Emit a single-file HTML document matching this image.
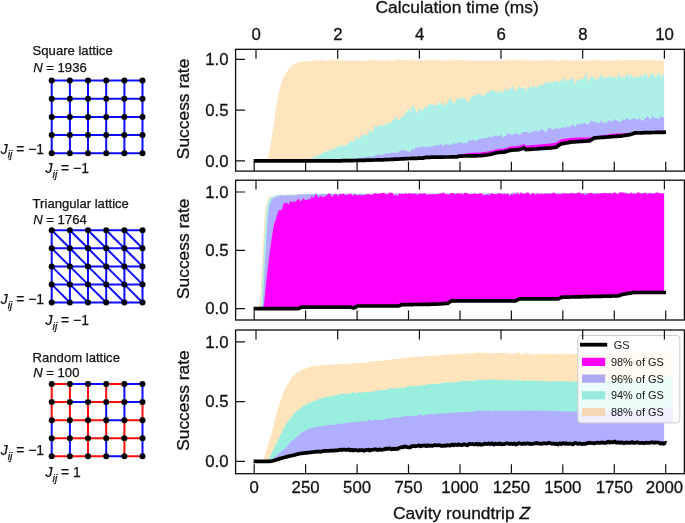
<!DOCTYPE html>
<html lang="en">
<head>
<meta charset="utf-8">
<title>Success rate vs cavity roundtrip</title>
<style>
html,body{margin:0;padding:0;background:#fff;}
body{width:685px;height:523px;overflow:hidden;}
svg{display:block;}
</style>
</head>
<body>
<svg width="685" height="523" viewBox="0 0 685 523">
<rect width="685" height="523" fill="#fff"/>
<g>
<path d="M254.2,160.9L255.8,160.9L257.5,160.9L259.1,160.9L260.8,160.9L262.4,160.9L264.1,160.9L265.7,160.9L267.4,160.4L269.0,152.5L270.7,144.6L272.3,133.8L274.0,122.6L275.6,111.8L277.2,101.2L278.9,92.6L280.5,85.9L282.2,80.5L283.8,77.2L285.5,73.9L287.1,71.2L288.8,69.3L290.4,67.5L292.1,65.6L293.7,64.5L295.4,63.6L297.0,62.8L298.6,63.1L300.3,61.5L301.9,61.9L303.6,61.8L305.2,60.9L306.9,61.7L308.5,60.6L310.2,61.5L311.8,60.7L313.5,60.9L315.1,59.8L316.7,59.7L318.4,60.5L320.0,60.1L321.7,60.5L323.3,60.2L325.0,60.7L326.6,61.1L328.3,61.1L329.9,60.2L331.6,59.5L333.2,60.3L334.9,60.6L336.5,59.6L338.1,60.3L339.8,60.4L341.4,60.3L343.1,60.5L344.7,60.5L346.4,61.0L348.0,60.2L349.7,60.4L351.3,59.9L353.0,60.5L354.6,61.2L356.3,60.4L357.9,59.7L359.5,60.5L361.2,60.7L362.8,60.9L364.5,60.8L366.1,60.5L367.8,60.9L369.4,59.8L371.1,60.5L372.7,60.3L374.4,59.8L376.0,59.8L377.6,60.5L379.3,60.2L380.9,60.1L382.6,60.5L384.2,61.1L385.9,60.1L387.5,60.0L389.2,60.2L390.8,60.7L392.5,60.4L394.1,60.6L395.8,60.5L397.4,59.8L399.0,59.7L400.7,60.1L402.3,60.1L404.0,60.1L405.6,60.4L407.3,60.4L408.9,60.6L410.6,60.4L412.2,59.4L413.9,60.0L415.5,60.5L417.2,60.5L418.8,60.7L420.4,60.2L422.1,60.2L423.7,60.9L425.4,60.2L427.0,60.6L428.7,59.8L430.3,60.3L432.0,59.6L433.6,60.5L435.3,60.5L436.9,60.2L438.6,59.9L440.2,60.1L441.8,60.8L443.5,60.3L445.1,60.3L446.8,60.5L448.4,60.6L450.1,59.6L451.7,60.5L453.4,60.7L455.0,60.1L456.7,60.3L458.3,60.4L460.0,60.0L461.6,60.1L463.2,60.2L464.9,59.9L466.5,60.2L468.2,60.6L469.8,60.5L471.5,60.5L473.1,60.2L474.8,60.8L476.4,61.1L478.1,60.3L479.7,60.9L481.3,61.1L483.0,60.2L484.6,60.6L486.3,60.1L487.9,60.5L489.6,60.8L491.2,60.8L492.9,60.5L494.5,60.4L496.2,60.6L497.8,60.4L499.5,60.9L501.1,60.3L502.7,61.0L504.4,60.4L506.0,60.0L507.7,59.9L509.3,59.6L511.0,60.9L512.6,60.0L514.3,59.8L515.9,59.9L517.6,60.7L519.2,60.1L520.9,59.5L522.5,60.9L524.1,60.1L525.8,59.8L527.4,60.6L529.1,60.1L530.7,60.7L532.4,60.6L534.0,60.6L535.7,60.2L537.3,60.3L539.0,59.9L540.6,60.7L542.2,60.3L543.9,59.9L545.5,60.1L547.2,60.8L548.8,60.0L550.5,60.5L552.1,60.1L553.8,60.2L555.4,59.8L557.1,60.2L558.7,61.0L560.4,60.8L562.0,60.0L563.6,60.4L565.3,59.8L566.9,60.2L568.6,60.6L570.2,59.8L571.9,60.6L573.5,61.1L575.2,59.4L576.8,61.0L578.5,60.0L580.1,59.9L581.8,60.2L583.4,60.9L585.0,59.8L586.7,60.8L588.3,60.8L590.0,60.4L591.6,59.9L593.3,60.1L594.9,59.9L596.6,60.4L598.2,60.3L599.9,60.7L601.5,60.4L603.2,60.0L604.8,60.4L606.4,60.1L608.1,60.5L609.7,60.5L611.4,60.2L613.0,60.3L614.7,60.0L616.3,60.2L618.0,59.5L619.6,60.3L621.3,60.3L622.9,60.7L624.6,60.2L626.2,60.0L627.8,60.5L629.5,60.3L631.1,59.9L632.8,60.3L634.4,60.4L636.1,59.8L637.7,60.2L639.4,60.1L641.0,59.8L642.7,59.8L644.3,60.4L645.9,60.4L647.6,60.1L649.2,60.3L650.9,61.0L652.5,59.7L654.2,60.2L655.8,59.9L657.5,60.7L659.1,59.7L660.8,60.5L662.4,60.3L664.1,60.8L664.1,132.3L655.8,132.4L647.6,132.6L639.4,132.8L631.1,134.3L622.9,135.7L614.7,136.5L606.4,137.1L598.2,137.7L590.0,140.6L581.8,141.3L573.5,141.9L565.3,143.1L557.1,146.6L548.8,148.0L540.6,148.6L532.4,149.2L524.1,147.8L515.9,149.9L507.7,151.0L499.5,152.4L491.2,154.2L483.0,155.4L474.8,155.8L466.5,156.0L458.3,156.4L450.1,157.0L441.8,157.1L433.6,157.2L425.4,157.4L417.2,158.3L408.9,158.5L400.7,158.9L392.5,159.3L384.2,159.7L376.0,160.0L367.8,160.2L359.5,160.4L351.3,160.6L343.1,160.7L334.9,160.9L326.6,160.9L318.4,160.9L310.2,160.9L301.9,160.9L293.7,160.9L285.5,160.9L277.2,160.9L269.0,160.9L260.8,160.9L254.2,160.9Z" fill="#ffe5be"/>
<path d="M254.2,160.9L255.8,160.9L257.5,160.9L259.1,160.9L260.8,160.9L262.4,160.9L264.1,160.9L265.7,160.9L267.4,160.9L269.0,160.9L270.7,160.9L272.3,160.9L274.0,160.9L275.6,160.9L277.2,160.9L278.9,160.9L280.5,160.9L282.2,160.9L283.8,160.9L285.5,160.9L287.1,160.9L288.8,160.9L290.4,160.9L292.1,160.9L293.7,160.9L295.4,160.9L297.0,160.9L298.6,160.9L300.3,160.9L301.9,160.9L303.6,160.9L305.2,160.9L306.9,160.4L308.5,159.7L310.2,159.0L311.8,158.3L313.5,157.5L315.1,156.8L316.7,155.9L318.4,155.5L320.0,154.7L321.7,153.5L323.3,152.4L325.0,152.3L326.6,150.8L328.3,151.2L329.9,149.9L331.6,149.5L333.2,150.0L334.9,148.0L336.5,146.9L338.1,147.2L339.8,146.5L341.4,144.5L343.1,146.5L344.7,146.2L346.4,144.8L348.0,144.8L349.7,140.9L351.3,141.3L353.0,142.1L354.6,141.0L356.3,135.1L357.9,139.4L359.5,138.9L361.2,136.4L362.8,134.8L364.5,134.4L366.1,135.4L367.8,134.9L369.4,130.5L371.1,130.7L372.7,132.9L374.4,126.1L376.0,125.9L377.6,126.9L379.3,126.1L380.9,124.5L382.6,125.7L384.2,126.4L385.9,122.4L387.5,125.3L389.2,120.9L390.8,124.0L392.5,120.7L394.1,119.9L395.8,115.1L397.4,120.0L399.0,119.9L400.7,117.4L402.3,117.5L404.0,115.5L405.6,112.6L407.3,111.0L408.9,108.3L410.6,112.7L412.2,105.3L413.9,106.2L415.5,110.1L417.2,113.9L418.8,108.9L420.4,108.1L422.1,112.4L423.7,107.1L425.4,107.2L427.0,107.9L428.7,104.5L430.3,103.3L432.0,105.8L433.6,103.9L435.3,105.4L436.9,105.4L438.6,103.3L440.2,102.1L441.8,104.0L443.5,107.0L445.1,101.0L446.8,105.2L448.4,101.4L450.1,97.7L451.7,101.0L453.4,103.1L455.0,103.3L456.7,97.7L458.3,99.7L460.0,98.2L461.6,97.0L463.2,98.6L464.9,98.7L466.5,99.6L468.2,103.6L469.8,100.0L471.5,96.7L473.1,96.5L474.8,95.0L476.4,95.6L478.1,94.7L479.7,93.0L481.3,96.1L483.0,94.6L484.6,97.0L486.3,91.5L487.9,93.1L489.6,91.9L491.2,89.5L492.9,90.1L494.5,92.2L496.2,90.2L497.8,94.4L499.5,90.3L501.1,90.7L502.7,94.0L504.4,87.7L506.0,91.5L507.7,88.4L509.3,90.4L511.0,87.3L512.6,86.3L514.3,90.4L515.9,91.5L517.6,88.4L519.2,86.1L520.9,88.3L522.5,88.6L524.1,86.0L525.8,92.4L527.4,87.8L529.1,89.0L530.7,85.3L532.4,87.1L534.0,87.6L535.7,85.8L537.3,87.7L539.0,84.5L540.6,85.6L542.2,84.7L543.9,85.1L545.5,81.5L547.2,83.3L548.8,81.7L550.5,81.6L552.1,84.0L553.8,81.0L555.4,81.2L557.1,81.1L558.7,82.3L560.4,82.1L562.0,79.5L563.6,76.4L565.3,82.3L566.9,79.4L568.6,81.0L570.2,78.4L571.9,78.9L573.5,77.4L575.2,84.9L576.8,80.2L578.5,80.6L580.1,78.6L581.8,79.5L583.4,79.0L585.0,76.1L586.7,73.6L588.3,83.1L590.0,78.0L591.6,76.7L593.3,77.3L594.9,77.9L596.6,79.9L598.2,79.1L599.9,75.7L601.5,74.9L603.2,76.9L604.8,78.7L606.4,76.8L608.1,77.4L609.7,75.8L611.4,76.6L613.0,78.1L614.7,76.4L616.3,79.1L618.0,75.1L619.6,74.3L621.3,79.0L622.9,75.7L624.6,78.5L626.2,74.2L627.8,74.5L629.5,76.7L631.1,74.2L632.8,77.0L634.4,77.4L636.1,77.2L637.7,76.2L639.4,76.5L641.0,75.5L642.7,77.0L644.3,74.1L645.9,73.5L647.6,76.5L649.2,78.4L650.9,73.9L652.5,73.0L654.2,75.6L655.8,77.8L657.5,74.6L659.1,72.0L660.8,78.8L662.4,74.0L664.1,75.5L664.1,132.3L655.8,132.4L647.6,132.6L639.4,132.8L631.1,134.3L622.9,135.7L614.7,136.5L606.4,137.1L598.2,137.7L590.0,140.6L581.8,141.3L573.5,141.9L565.3,143.1L557.1,146.6L548.8,148.0L540.6,148.6L532.4,149.2L524.1,147.8L515.9,149.9L507.7,151.0L499.5,152.4L491.2,154.2L483.0,155.4L474.8,155.8L466.5,156.0L458.3,156.4L450.1,157.0L441.8,157.1L433.6,157.2L425.4,157.4L417.2,158.3L408.9,158.5L400.7,158.9L392.5,159.3L384.2,159.7L376.0,160.0L367.8,160.2L359.5,160.4L351.3,160.6L343.1,160.7L334.9,160.9L326.6,160.9L318.4,160.9L310.2,160.9L301.9,160.9L293.7,160.9L285.5,160.9L277.2,160.9L269.0,160.9L260.8,160.9L254.2,160.9Z" fill="#acf0e8"/>
<path d="M254.2,160.9L255.8,160.9L257.5,160.9L259.1,160.9L260.8,160.9L262.4,160.9L264.1,160.9L265.7,160.9L267.4,160.9L269.0,160.9L270.7,160.9L272.3,160.9L274.0,160.9L275.6,160.9L277.2,160.9L278.9,160.9L280.5,160.9L282.2,160.9L283.8,160.9L285.5,160.9L287.1,160.9L288.8,160.9L290.4,160.9L292.1,160.9L293.7,160.9L295.4,160.9L297.0,160.9L298.6,160.9L300.3,160.9L301.9,160.9L303.6,160.9L305.2,160.9L306.9,160.9L308.5,160.9L310.2,160.9L311.8,160.9L313.5,160.9L315.1,160.9L316.7,160.9L318.4,160.9L320.0,160.9L321.7,160.9L323.3,160.9L325.0,160.9L326.6,160.9L328.3,160.9L329.9,160.9L331.6,160.9L333.2,160.9L334.9,160.9L336.5,160.8L338.1,160.8L339.8,160.8L341.4,160.8L343.1,160.7L344.7,160.4L346.4,159.9L348.0,159.6L349.7,159.3L351.3,159.1L353.0,158.8L354.6,158.6L356.3,158.5L357.9,158.1L359.5,158.0L361.2,157.4L362.8,157.8L364.5,157.5L366.1,156.9L367.8,156.4L369.4,156.6L371.1,156.7L372.7,156.3L374.4,156.2L376.0,154.7L377.6,155.0L379.3,154.6L380.9,154.9L382.6,155.2L384.2,153.8L385.9,153.2L387.5,153.6L389.2,153.7L390.8,152.5L392.5,153.3L394.1,152.0L395.8,153.0L397.4,152.9L399.0,151.2L400.7,151.1L402.3,149.1L404.0,151.0L405.6,150.4L407.3,151.3L408.9,151.8L410.6,151.5L412.2,148.7L413.9,150.3L415.5,147.5L417.2,146.9L418.8,148.5L420.4,146.1L422.1,147.5L423.7,146.2L425.4,147.5L427.0,145.9L428.7,147.8L430.3,145.8L432.0,146.7L433.6,146.1L435.3,145.1L436.9,145.5L438.6,145.6L440.2,144.5L441.8,144.3L443.5,146.5L445.1,144.2L446.8,143.9L448.4,145.3L450.1,143.9L451.7,145.6L453.4,142.4L455.0,144.1L456.7,143.8L458.3,142.0L460.0,143.2L461.6,142.0L463.2,143.5L464.9,142.7L466.5,143.2L468.2,141.6L469.8,139.9L471.5,140.5L473.1,139.4L474.8,141.2L476.4,140.7L478.1,139.9L479.7,138.4L481.3,138.4L483.0,138.5L484.6,137.6L486.3,138.2L487.9,137.8L489.6,136.1L491.2,138.0L492.9,136.8L494.5,135.0L496.2,136.5L497.8,135.5L499.5,136.8L501.1,133.7L502.7,138.1L504.4,136.6L506.0,136.3L507.7,133.0L509.3,134.2L511.0,134.6L512.6,135.5L514.3,133.4L515.9,133.5L517.6,134.1L519.2,134.8L520.9,134.1L522.5,132.3L524.1,132.0L525.8,132.0L527.4,132.0L529.1,133.6L530.7,131.4L532.4,132.4L534.0,131.0L535.7,130.3L537.3,131.4L539.0,131.6L540.6,129.2L542.2,129.7L543.9,130.6L545.5,133.1L547.2,129.6L548.8,128.6L550.5,127.8L552.1,129.6L553.8,129.3L555.4,128.8L557.1,127.2L558.7,129.2L560.4,127.7L562.0,128.4L563.6,126.8L565.3,128.6L566.9,126.2L568.6,126.9L570.2,126.4L571.9,125.3L573.5,124.4L575.2,127.3L576.8,124.1L578.5,124.3L580.1,125.0L581.8,122.9L583.4,124.0L585.0,122.5L586.7,124.4L588.3,124.4L590.0,121.9L591.6,120.6L593.3,122.0L594.9,121.5L596.6,122.8L598.2,123.6L599.9,122.2L601.5,120.1L603.2,123.7L604.8,122.0L606.4,123.4L608.1,121.0L609.7,119.9L611.4,122.1L613.0,121.0L614.7,118.9L616.3,120.3L618.0,121.4L619.6,121.4L621.3,122.0L622.9,118.8L624.6,120.4L626.2,118.3L627.8,118.5L629.5,120.1L631.1,119.8L632.8,118.3L634.4,118.9L636.1,118.7L637.7,120.8L639.4,117.8L641.0,119.7L642.7,121.2L644.3,119.3L645.9,118.0L647.6,116.0L649.2,118.6L650.9,119.6L652.5,115.6L654.2,117.7L655.8,118.0L657.5,118.8L659.1,118.6L660.8,115.7L662.4,117.5L664.1,117.7L664.1,132.3L655.8,132.4L647.6,132.6L639.4,132.8L631.1,134.3L622.9,135.7L614.7,136.5L606.4,137.1L598.2,137.7L590.0,140.6L581.8,141.3L573.5,141.9L565.3,143.1L557.1,146.6L548.8,148.0L540.6,148.6L532.4,149.2L524.1,147.8L515.9,149.9L507.7,151.0L499.5,152.4L491.2,154.2L483.0,155.4L474.8,155.8L466.5,156.0L458.3,156.4L450.1,157.0L441.8,157.1L433.6,157.2L425.4,157.4L417.2,158.3L408.9,158.5L400.7,158.9L392.5,159.3L384.2,159.7L376.0,160.0L367.8,160.2L359.5,160.4L351.3,160.6L343.1,160.7L334.9,160.9L326.6,160.9L318.4,160.9L310.2,160.9L301.9,160.9L293.7,160.9L285.5,160.9L277.2,160.9L269.0,160.9L260.8,160.9L254.2,160.9Z" fill="#b2aeff"/>
<path d="M254.2,160.9L255.8,160.9L257.5,160.9L259.1,160.9L260.8,160.9L262.4,160.9L264.1,160.9L265.7,160.9L267.4,160.9L269.0,160.9L270.7,160.9L272.3,160.9L274.0,160.9L275.6,160.9L277.2,160.9L278.9,160.9L280.5,160.9L282.2,160.9L283.8,160.9L285.5,160.9L287.1,160.9L288.8,160.9L290.4,160.9L292.1,160.9L293.7,160.9L295.4,160.9L297.0,160.9L298.6,160.9L300.3,160.9L301.9,160.9L303.6,160.9L305.2,160.9L306.9,160.9L308.5,160.9L310.2,160.9L311.8,160.9L313.5,160.9L315.1,160.9L316.7,160.9L318.4,160.9L320.0,160.9L321.7,160.9L323.3,160.9L325.0,160.9L326.6,160.9L328.3,160.9L329.9,160.9L331.6,160.9L333.2,160.9L334.9,160.9L336.5,160.8L338.1,160.8L339.8,160.8L341.4,160.8L343.1,160.7L344.7,160.7L346.4,160.7L348.0,160.6L349.7,160.6L351.3,160.6L353.0,160.6L354.6,160.5L356.3,160.5L357.9,160.5L359.5,160.4L361.2,160.4L362.8,160.3L364.5,160.3L366.1,160.2L367.8,160.2L369.4,160.2L371.1,160.1L372.7,160.1L374.4,160.0L376.0,160.0L377.6,159.9L379.3,159.9L380.9,159.8L382.6,159.8L384.2,159.7L385.9,159.7L387.5,159.6L389.2,159.5L390.8,159.4L392.5,159.3L394.1,159.3L395.8,159.2L397.4,159.1L399.0,159.0L400.7,158.9L402.3,158.9L404.0,158.8L405.6,158.7L407.3,158.6L408.9,158.5L410.6,158.5L412.2,158.4L413.9,158.4L415.5,158.3L417.2,158.3L418.8,158.2L420.4,158.1L422.1,158.1L423.7,157.9L425.4,157.4L427.0,157.3L428.7,157.3L430.3,157.3L432.0,157.2L433.6,157.2L435.3,157.2L436.9,157.2L438.6,157.1L440.2,157.1L441.8,157.1L443.5,157.1L445.1,157.0L446.8,157.0L448.4,157.0L450.1,156.9L451.7,156.6L453.4,156.4L455.0,156.1L456.7,155.8L458.3,155.1L460.0,154.6L461.6,154.3L463.2,154.0L464.9,153.8L466.5,153.5L468.2,153.2L469.8,152.9L471.5,152.8L473.1,152.7L474.8,152.7L476.4,152.6L478.1,152.6L479.7,152.5L481.3,152.4L483.0,152.1L484.6,151.9L486.3,151.7L487.9,151.4L489.6,151.2L491.2,150.8L492.9,150.4L494.5,149.9L496.2,149.5L497.8,149.1L499.5,148.9L501.1,148.8L502.7,148.7L504.4,148.5L506.0,148.0L507.7,147.4L509.3,146.8L511.0,146.6L512.6,146.5L514.3,146.3L515.9,146.2L517.6,146.0L519.2,145.8L520.9,145.2L522.5,144.5L524.1,143.9L525.8,145.7L527.4,145.5L529.1,145.4L530.7,145.2L532.4,145.1L534.0,144.9L535.7,144.8L537.3,144.7L539.0,144.5L540.6,144.4L542.2,144.2L543.9,144.1L545.5,144.0L547.2,143.8L548.8,143.7L550.5,143.5L552.1,143.3L553.8,143.1L555.4,142.9L557.1,142.1L558.7,140.9L560.4,139.8L562.0,139.2L563.6,138.9L565.3,138.7L566.9,138.5L568.6,138.2L570.2,138.0L571.9,137.8L573.5,137.8L575.2,137.7L576.8,137.7L578.5,137.6L580.1,137.6L581.8,137.6L583.4,137.5L585.0,137.5L586.7,137.4L588.3,137.5L590.0,137.6L591.6,137.0L593.3,136.4L594.9,136.1L596.6,136.1L598.2,135.9L599.9,135.6L601.5,135.4L603.2,135.2L604.8,134.9L606.4,134.7L608.1,134.5L609.7,134.2L611.4,134.0L613.0,133.8L614.7,133.5L616.3,133.3L618.0,133.4L619.6,133.4L621.3,133.4L622.9,133.3L624.6,133.2L626.2,133.1L627.8,133.1L629.5,133.0L631.1,132.7L632.8,132.1L634.4,131.5L636.1,131.3L637.7,131.2L639.4,131.2L641.0,131.2L642.7,131.1L644.3,131.1L645.9,131.1L647.6,131.0L649.2,131.0L650.9,130.9L652.5,130.9L654.2,130.9L655.8,130.8L657.5,130.8L659.1,130.7L660.8,130.7L662.4,130.7L664.1,130.6L664.1,132.3L655.8,132.4L647.6,132.6L639.4,132.8L631.1,134.3L622.9,135.7L614.7,136.5L606.4,137.1L598.2,137.7L590.0,140.6L581.8,141.3L573.5,141.9L565.3,143.1L557.1,146.6L548.8,148.0L540.6,148.6L532.4,149.2L524.1,147.8L515.9,149.9L507.7,151.0L499.5,152.4L491.2,154.2L483.0,155.4L474.8,155.8L466.5,156.0L458.3,156.4L450.1,157.0L441.8,157.1L433.6,157.2L425.4,157.4L417.2,158.3L408.9,158.5L400.7,158.9L392.5,159.3L384.2,159.7L376.0,160.0L367.8,160.2L359.5,160.4L351.3,160.6L343.1,160.7L334.9,160.9L326.6,160.9L318.4,160.9L310.2,160.9L301.9,160.9L293.7,160.9L285.5,160.9L277.2,160.9L269.0,160.9L260.8,160.9L254.2,160.9Z" fill="#ff00ff"/>
<path d="M253.6,160.9L254.2,160.9L255.0,160.9L255.8,160.9L256.7,160.9L257.5,160.9L258.3,160.9L259.1,160.9L260.0,160.9L260.8,160.9L261.6,160.9L262.4,160.9L263.3,160.9L264.1,160.9L264.9,160.9L265.7,160.9L266.5,160.9L267.4,160.9L268.2,160.9L269.0,160.9L269.8,160.9L270.7,160.9L271.5,160.9L272.3,160.9L273.1,160.9L274.0,160.9L274.8,160.9L275.6,160.9L276.4,160.9L277.2,160.9L278.1,160.9L278.9,160.9L279.7,160.9L280.5,160.9L281.4,160.9L282.2,160.9L283.0,160.9L283.8,160.9L284.7,160.9L285.5,160.9L286.3,160.9L287.1,160.9L287.9,160.9L288.8,160.9L289.6,160.9L290.4,160.9L291.2,160.9L292.1,160.9L292.9,160.9L293.7,160.9L294.5,160.9L295.4,160.9L296.2,160.9L297.0,160.9L297.8,160.9L298.6,160.9L299.5,160.9L300.3,160.9L301.1,160.9L301.9,160.9L302.8,160.9L303.6,160.9L304.4,160.9L305.2,160.9L306.0,160.9L306.9,160.9L307.7,160.9L308.5,160.9L309.3,160.9L310.2,160.9L311.0,160.9L311.8,160.9L312.6,160.9L313.5,160.9L314.3,160.9L315.1,160.9L315.9,160.9L316.7,160.9L317.6,160.9L318.4,160.9L319.2,160.9L320.0,160.9L320.9,160.9L321.7,160.9L322.5,160.9L323.3,160.9L324.2,160.9L325.0,160.9L325.8,160.9L326.6,160.9L327.4,160.9L328.3,160.9L329.1,160.9L329.9,160.9L330.7,160.9L331.6,160.9L332.4,160.9L333.2,160.9L334.0,160.9L334.9,160.9L335.7,160.8L336.5,160.8L337.3,160.8L338.1,160.8L339.0,160.8L339.8,160.8L340.6,160.8L341.4,160.8L342.3,160.7L343.1,160.7L343.9,160.7L344.7,160.7L345.6,160.7L346.4,160.7L347.2,160.7L348.0,160.6L348.8,160.6L349.7,160.6L350.5,160.6L351.3,160.6L352.1,160.6L353.0,160.6L353.8,160.5L354.6,160.5L355.4,160.5L356.3,160.5L357.1,160.5L357.9,160.5L358.7,160.4L359.5,160.4L360.4,160.4L361.2,160.4L362.0,160.4L362.8,160.3L363.7,160.3L364.5,160.3L365.3,160.3L366.1,160.2L367.0,160.2L367.8,160.2L368.6,160.2L369.4,160.2L370.2,160.1L371.1,160.1L371.9,160.1L372.7,160.1L373.5,160.0L374.4,160.0L375.2,160.0L376.0,160.0L376.8,159.9L377.6,159.9L378.5,159.9L379.3,159.9L380.1,159.9L380.9,159.8L381.8,159.8L382.6,159.8L383.4,159.8L384.2,159.7L385.1,159.7L385.9,159.7L386.7,159.6L387.5,159.6L388.3,159.6L389.2,159.5L390.0,159.5L390.8,159.4L391.6,159.4L392.5,159.3L393.3,159.3L394.1,159.3L394.9,159.2L395.8,159.2L396.6,159.1L397.4,159.1L398.2,159.1L399.0,159.0L399.9,159.0L400.7,158.9L401.5,158.9L402.3,158.9L403.2,158.8L404.0,158.8L404.8,158.7L405.6,158.7L406.5,158.6L407.3,158.6L408.1,158.6L408.9,158.5L409.7,158.5L410.6,158.5L411.4,158.4L412.2,158.4L413.0,158.4L413.9,158.4L414.7,158.3L415.5,158.3L416.3,158.3L417.2,158.3L418.0,158.2L418.8,158.2L419.6,158.2L420.4,158.1L421.3,158.1L422.1,158.1L422.9,158.1L423.7,157.9L424.6,157.7L425.4,157.4L426.2,157.3L427.0,157.3L427.9,157.3L428.7,157.3L429.5,157.3L430.3,157.3L431.1,157.2L432.0,157.2L432.8,157.2L433.6,157.2L434.4,157.2L435.3,157.2L436.1,157.2L436.9,157.2L437.7,157.1L438.6,157.1L439.4,157.1L440.2,157.1L441.0,157.1L441.8,157.1L442.7,157.1L443.5,157.1L444.3,157.0L445.1,157.0L446.0,157.0L446.8,157.0L447.6,157.0L448.4,157.0L449.3,157.0L450.1,157.0L450.9,156.9L451.7,156.9L452.5,156.9L453.4,156.9L454.2,156.9L455.0,156.9L455.8,156.9L456.7,156.9L457.5,156.6L458.3,156.4L459.1,156.1L460.0,156.1L460.8,156.1L461.6,156.1L462.4,156.1L463.2,156.0L464.1,156.0L464.9,156.0L465.7,156.0L466.5,156.0L467.4,156.0L468.2,155.9L469.0,155.9L469.8,155.9L470.6,155.9L471.5,155.9L472.3,155.8L473.1,155.8L473.9,155.8L474.8,155.8L475.6,155.8L476.4,155.8L477.2,155.7L478.1,155.7L478.9,155.7L479.7,155.7L480.5,155.7L481.3,155.6L482.2,155.5L483.0,155.4L483.8,155.3L484.6,155.2L485.5,155.1L486.3,155.0L487.1,154.9L487.9,154.7L488.8,154.6L489.6,154.5L490.4,154.4L491.2,154.2L492.0,154.0L492.9,153.8L493.7,153.5L494.5,153.3L495.3,153.1L496.2,152.9L497.0,152.7L497.8,152.5L498.6,152.5L499.5,152.4L500.3,152.4L501.1,152.3L501.9,152.2L502.7,152.2L503.6,152.1L504.4,152.1L505.2,151.9L506.0,151.6L506.9,151.3L507.7,151.0L508.5,150.7L509.3,150.4L510.2,150.3L511.0,150.3L511.8,150.2L512.6,150.1L513.4,150.1L514.3,150.0L515.1,150.0L515.9,149.9L516.7,149.8L517.6,149.8L518.4,149.7L519.2,149.6L520.0,149.3L520.9,149.0L521.7,148.7L522.5,148.4L523.3,148.1L524.1,147.8L525.0,148.9L525.8,149.6L526.6,149.6L527.4,149.5L528.3,149.4L529.1,149.4L529.9,149.3L530.7,149.3L531.6,149.2L532.4,149.2L533.2,149.1L534.0,149.0L534.8,149.0L535.7,148.9L536.5,148.9L537.3,148.8L538.1,148.8L539.0,148.7L539.8,148.6L540.6,148.6L541.4,148.5L542.2,148.5L543.1,148.4L543.9,148.4L544.7,148.3L545.5,148.2L546.4,148.2L547.2,148.1L548.0,148.1L548.8,148.0L549.7,147.9L550.5,147.8L551.3,147.8L552.1,147.7L552.9,147.6L553.8,147.5L554.6,147.4L555.4,147.3L556.2,147.2L557.1,146.6L557.9,146.0L558.7,145.4L559.5,144.9L560.4,144.3L561.2,143.9L562.0,143.7L562.8,143.6L563.6,143.4L564.5,143.3L565.3,143.1L566.1,143.0L566.9,142.9L567.8,142.7L568.6,142.6L569.4,142.4L570.2,142.3L571.1,142.1L571.9,142.0L572.7,141.9L573.5,141.9L574.3,141.8L575.2,141.8L576.0,141.7L576.8,141.7L577.6,141.6L578.5,141.6L579.3,141.5L580.1,141.5L580.9,141.4L581.8,141.3L582.6,141.3L583.4,141.2L584.2,141.2L585.0,141.1L585.9,141.1L586.7,141.0L587.5,141.0L588.3,140.9L589.2,140.9L590.0,140.6L590.8,140.1L591.6,139.6L592.5,139.1L593.3,138.6L594.1,138.1L594.9,137.9L595.7,137.9L596.6,137.8L597.4,137.7L598.2,137.7L599.0,137.6L599.9,137.6L600.7,137.5L601.5,137.4L602.3,137.4L603.2,137.3L604.0,137.3L604.8,137.2L605.6,137.1L606.4,137.1L607.3,137.0L608.1,137.0L608.9,136.9L609.7,136.8L610.6,136.8L611.4,136.7L612.2,136.7L613.0,136.6L613.9,136.5L614.7,136.5L615.5,136.4L616.3,136.4L617.1,136.3L618.0,136.2L618.8,136.2L619.6,136.1L620.4,136.1L621.3,136.0L622.1,135.8L622.9,135.7L623.7,135.6L624.6,135.5L625.4,135.3L626.2,135.2L627.0,135.1L627.8,135.0L628.7,134.8L629.5,134.7L630.3,134.6L631.1,134.3L632.0,134.0L632.8,133.7L633.6,133.4L634.4,133.1L635.2,132.9L636.1,132.9L636.9,132.9L637.7,132.9L638.5,132.8L639.4,132.8L640.2,132.8L641.0,132.8L641.8,132.8L642.7,132.8L643.5,132.7L644.3,132.7L645.1,132.7L645.9,132.7L646.8,132.7L647.6,132.6L648.4,132.6L649.2,132.6L650.1,132.6L650.9,132.6L651.7,132.5L652.5,132.5L653.4,132.5L654.2,132.5L655.0,132.5L655.8,132.4L656.6,132.4L657.5,132.4L658.3,132.4L659.1,132.4L659.9,132.4L660.8,132.3L661.6,132.3L662.4,132.3L663.2,132.3L664.1,132.3L664.9,132.2L665.7,132.2L666.0,132.2" fill="none" stroke="#000" stroke-width="3.7" stroke-linecap="butt" stroke-linejoin="round"/>
<path d="M254.2,171.1v-9.4M305.6,171.1v-9.4M357.1,171.1v-9.4M408.5,171.1v-9.4M460.0,171.1v-9.4M511.4,171.1v-9.4M562.8,171.1v-9.4M614.3,171.1v-9.4M665.7,171.1v-9.4M256.0,49.3v9.4M337.7,49.3v9.4M419.4,49.3v9.4M501.0,49.3v9.4M582.7,49.3v9.4M664.4,49.3v9.4M235.6,160.9h9.4M235.6,110.2h9.4M235.6,59.4h9.4" stroke="#111" stroke-width="1.2" fill="none"/>
<rect x="235.6" y="49.3" width="448.8" height="121.8" fill="none" stroke="#0a0a0a" stroke-width="1.3"/>
</g>
<g>
<path d="M254.2,308.6L255.8,308.6L257.5,308.6L259.1,308.6L260.8,287.6L262.4,255.0L264.1,223.1L265.7,207.5L267.4,200.5L269.0,197.1L270.7,196.7L272.3,196.2L274.0,195.7L275.6,195.3L277.2,194.9L278.9,194.9L280.5,194.8L282.2,194.8L283.8,194.7L285.5,194.7L287.1,194.6L288.8,194.6L290.4,194.5L292.1,194.5L293.7,194.4L295.4,194.4L297.0,194.3L298.6,194.3L300.3,194.2L301.9,194.2L303.6,194.1L305.2,194.1L306.9,194.0L308.5,194.0L310.2,193.9L311.8,193.9L313.5,193.8L315.1,193.8L316.7,193.7L318.4,193.7L320.0,193.7L321.7,193.7L323.3,193.7L325.0,193.7L326.6,193.7L328.3,193.7L329.9,193.7L331.6,193.7L333.2,193.7L334.9,193.7L336.5,193.7L338.1,193.7L339.8,193.7L341.4,193.7L343.1,193.7L344.7,193.7L346.4,193.7L348.0,193.7L349.7,193.7L351.3,193.7L353.0,193.7L354.6,193.7L356.3,193.7L357.9,193.7L359.5,193.7L361.2,193.7L362.8,193.7L364.5,193.7L366.1,193.7L367.8,193.7L369.4,193.7L371.1,193.7L372.7,193.7L374.4,193.7L376.0,193.6L377.6,193.6L379.3,193.6L380.9,193.6L382.6,193.6L384.2,193.6L385.9,193.6L387.5,193.6L389.2,193.6L390.8,193.6L392.5,193.6L394.1,193.6L395.8,193.6L397.4,193.6L399.0,193.6L400.7,193.6L402.3,193.6L404.0,193.6L405.6,193.6L407.3,193.6L408.9,193.6L410.6,193.6L412.2,193.6L413.9,193.6L415.5,193.6L417.2,193.6L418.8,193.6L420.4,193.6L422.1,193.6L423.7,193.6L425.4,193.6L427.0,193.6L428.7,193.6L430.3,193.6L432.0,193.6L433.6,193.6L435.3,193.6L436.9,193.5L438.6,193.5L440.2,193.5L441.8,193.5L443.5,193.5L445.1,193.5L446.8,193.5L448.4,193.5L450.1,193.5L451.7,193.5L453.4,193.5L455.0,193.5L456.7,193.5L458.3,193.5L460.0,193.5L461.6,193.5L463.2,193.5L464.9,193.5L466.5,193.5L468.2,193.5L469.8,193.5L471.5,193.5L473.1,193.5L474.8,193.5L476.4,193.5L478.1,193.5L479.7,193.5L481.3,193.5L483.0,193.5L484.6,193.5L486.3,193.5L487.9,193.5L489.6,193.5L491.2,193.5L492.9,193.5L494.5,193.5L496.2,193.4L497.8,193.4L499.5,193.4L501.1,193.4L502.7,193.4L504.4,193.4L506.0,193.4L507.7,193.4L509.3,193.4L511.0,193.4L512.6,193.4L514.3,193.4L515.9,193.4L517.6,193.4L519.2,193.4L520.9,193.4L522.5,193.4L524.1,193.4L525.8,193.4L527.4,193.4L529.1,193.4L530.7,193.4L532.4,193.4L534.0,193.4L535.7,193.4L537.3,193.4L539.0,193.4L540.6,193.4L542.2,193.4L543.9,193.4L545.5,193.4L547.2,193.4L548.8,193.4L550.5,193.4L552.1,193.4L553.8,193.4L555.4,193.3L557.1,193.3L558.7,193.3L560.4,193.3L562.0,193.3L563.6,193.3L565.3,193.3L566.9,193.3L568.6,193.3L570.2,193.3L571.9,193.3L573.5,193.3L575.2,193.3L576.8,193.3L578.5,193.3L580.1,193.3L581.8,193.3L583.4,193.3L585.0,193.3L586.7,193.3L588.3,193.3L590.0,193.3L591.6,193.3L593.3,193.3L594.9,193.3L596.6,193.3L598.2,193.3L599.9,193.3L601.5,193.3L603.2,193.3L604.8,193.3L606.4,193.3L608.1,193.3L609.7,193.3L611.4,193.3L613.0,193.3L614.7,193.3L616.3,193.2L618.0,193.2L619.6,193.2L621.3,193.2L622.9,193.2L624.6,193.2L626.2,193.2L627.8,193.2L629.5,193.2L631.1,193.2L632.8,193.2L634.4,193.2L636.1,193.2L637.7,193.2L639.4,193.2L641.0,193.2L642.7,193.2L644.3,193.2L645.9,193.2L647.6,193.2L649.2,193.2L650.9,193.2L652.5,193.2L654.2,193.2L655.8,193.2L657.5,193.2L659.1,193.2L660.8,193.2L662.4,193.2L664.1,193.2L664.1,292.5L655.8,292.5L647.6,292.5L639.4,292.5L631.1,292.9L622.9,294.3L614.7,296.0L606.4,296.2L598.2,296.4L590.0,296.6L581.8,296.7L573.5,297.0L565.3,297.2L557.1,298.8L548.8,298.8L540.6,298.8L532.4,298.8L524.1,298.8L515.9,300.7L507.7,300.9L499.5,300.9L491.2,300.9L483.0,300.9L474.8,300.9L466.5,300.9L458.3,300.9L450.1,301.8L441.8,303.7L433.6,304.2L425.4,304.3L417.2,304.5L408.9,304.6L400.7,305.1L392.5,306.0L384.2,306.0L376.0,306.0L367.8,306.0L359.5,306.0L351.3,307.3L343.1,307.2L334.9,307.2L326.6,307.2L318.4,307.2L310.2,307.2L301.9,307.2L293.7,308.6L285.5,308.6L277.2,308.6L269.0,308.6L260.8,308.6L254.2,308.6Z" fill="#ffe5be"/>
<path d="M254.2,308.6L255.8,308.6L257.5,308.6L259.1,308.6L260.8,308.6L262.4,280.6L264.1,245.6L265.7,219.2L267.4,203.7L269.0,199.8L270.7,197.5L272.3,196.9L274.0,196.3L275.6,195.7L277.2,195.2L278.9,195.2L280.5,195.1L282.2,195.1L283.8,195.0L285.5,194.9L287.1,194.9L288.8,194.8L290.4,194.7L292.1,194.7L293.7,194.6L295.4,194.5L297.0,194.5L298.6,194.4L300.3,194.4L301.9,194.3L303.6,194.2L305.2,194.2L306.9,194.1L308.5,194.0L310.2,194.0L311.8,193.9L313.5,193.8L315.1,193.8L316.7,193.7L318.4,193.7L320.0,193.7L321.7,193.7L323.3,193.7L325.0,193.7L326.6,193.7L328.3,193.7L329.9,193.7L331.6,193.7L333.2,193.7L334.9,193.7L336.5,193.7L338.1,193.7L339.8,193.7L341.4,193.7L343.1,193.7L344.7,193.7L346.4,193.7L348.0,193.7L349.7,193.7L351.3,193.7L353.0,193.7L354.6,193.7L356.3,193.7L357.9,193.7L359.5,193.7L361.2,193.7L362.8,193.7L364.5,193.7L366.1,193.7L367.8,193.7L369.4,193.7L371.1,193.7L372.7,193.7L374.4,193.7L376.0,193.6L377.6,193.6L379.3,193.6L380.9,193.6L382.6,193.6L384.2,193.6L385.9,193.6L387.5,193.6L389.2,193.6L390.8,193.6L392.5,193.6L394.1,193.6L395.8,193.6L397.4,193.6L399.0,193.6L400.7,193.6L402.3,193.6L404.0,193.6L405.6,193.6L407.3,193.6L408.9,193.6L410.6,193.6L412.2,193.6L413.9,193.6L415.5,193.6L417.2,193.6L418.8,193.6L420.4,193.6L422.1,193.6L423.7,193.6L425.4,193.6L427.0,193.6L428.7,193.6L430.3,193.6L432.0,193.6L433.6,193.6L435.3,193.6L436.9,193.5L438.6,193.5L440.2,193.5L441.8,193.5L443.5,193.5L445.1,193.5L446.8,193.5L448.4,193.5L450.1,193.5L451.7,193.5L453.4,193.5L455.0,193.5L456.7,193.5L458.3,193.5L460.0,193.5L461.6,193.5L463.2,193.5L464.9,193.5L466.5,193.5L468.2,193.5L469.8,193.5L471.5,193.5L473.1,193.5L474.8,193.5L476.4,193.5L478.1,193.5L479.7,193.5L481.3,193.5L483.0,193.5L484.6,193.5L486.3,193.5L487.9,193.5L489.6,193.5L491.2,193.5L492.9,193.5L494.5,193.5L496.2,193.4L497.8,193.4L499.5,193.4L501.1,193.4L502.7,193.4L504.4,193.4L506.0,193.4L507.7,193.4L509.3,193.4L511.0,193.4L512.6,193.4L514.3,193.4L515.9,193.4L517.6,193.4L519.2,193.4L520.9,193.4L522.5,193.4L524.1,193.4L525.8,193.4L527.4,193.4L529.1,193.4L530.7,193.4L532.4,193.4L534.0,193.4L535.7,193.4L537.3,193.4L539.0,193.4L540.6,193.4L542.2,193.4L543.9,193.4L545.5,193.4L547.2,193.4L548.8,193.4L550.5,193.4L552.1,193.4L553.8,193.4L555.4,193.3L557.1,193.3L558.7,193.3L560.4,193.3L562.0,193.3L563.6,193.3L565.3,193.3L566.9,193.3L568.6,193.3L570.2,193.3L571.9,193.3L573.5,193.3L575.2,193.3L576.8,193.3L578.5,193.3L580.1,193.3L581.8,193.3L583.4,193.3L585.0,193.3L586.7,193.3L588.3,193.3L590.0,193.3L591.6,193.3L593.3,193.3L594.9,193.3L596.6,193.3L598.2,193.3L599.9,193.3L601.5,193.3L603.2,193.3L604.8,193.3L606.4,193.3L608.1,193.3L609.7,193.3L611.4,193.3L613.0,193.3L614.7,193.3L616.3,193.2L618.0,193.2L619.6,193.2L621.3,193.2L622.9,193.2L624.6,193.2L626.2,193.2L627.8,193.2L629.5,193.2L631.1,193.2L632.8,193.2L634.4,193.2L636.1,193.2L637.7,193.2L639.4,193.2L641.0,193.2L642.7,193.2L644.3,193.2L645.9,193.2L647.6,193.2L649.2,193.2L650.9,193.2L652.5,193.2L654.2,193.2L655.8,193.2L657.5,193.2L659.1,193.2L660.8,193.2L662.4,193.2L664.1,193.2L664.1,292.5L655.8,292.5L647.6,292.5L639.4,292.5L631.1,292.9L622.9,294.3L614.7,296.0L606.4,296.2L598.2,296.4L590.0,296.6L581.8,296.7L573.5,297.0L565.3,297.2L557.1,298.8L548.8,298.8L540.6,298.8L532.4,298.8L524.1,298.8L515.9,300.7L507.7,300.9L499.5,300.9L491.2,300.9L483.0,300.9L474.8,300.9L466.5,300.9L458.3,300.9L450.1,301.8L441.8,303.7L433.6,304.2L425.4,304.3L417.2,304.5L408.9,304.6L400.7,305.1L392.5,306.0L384.2,306.0L376.0,306.0L367.8,306.0L359.5,306.0L351.3,307.3L343.1,307.2L334.9,307.2L326.6,307.2L318.4,307.2L310.2,307.2L301.9,307.2L293.7,308.6L285.5,308.6L277.2,308.6L269.0,308.6L260.8,308.6L254.2,308.6Z" fill="#acf0e8"/>
<path d="M254.2,308.6L255.8,308.6L257.5,308.6L259.1,308.6L260.8,308.6L262.4,308.6L264.1,280.6L265.7,248.4L267.4,223.1L269.0,206.0L270.7,202.0L272.3,198.8L274.0,198.0L275.6,197.3L277.2,196.5L278.9,195.7L280.5,195.5L282.2,195.1L283.8,195.5L285.5,195.8L287.1,194.8L288.8,195.5L290.4,195.5L292.1,195.8L293.7,195.0L295.4,195.4L297.0,195.1L298.6,194.6L300.3,194.7L301.9,194.2L303.6,194.4L305.2,194.7L306.9,194.6L308.5,194.6L310.2,194.0L311.8,194.2L313.5,194.3L315.1,193.6L316.7,193.9L318.4,194.2L320.0,194.7L321.7,193.8L323.3,193.9L325.0,193.9L326.6,194.2L328.3,194.3L329.9,194.1L331.6,193.8L333.2,194.0L334.9,194.0L336.5,194.2L338.1,193.8L339.8,193.8L341.4,194.3L343.1,193.6L344.7,193.5L346.4,193.5L348.0,194.0L349.7,194.0L351.3,194.4L353.0,193.5L354.6,194.9L356.3,194.1L357.9,194.0L359.5,193.5L361.2,193.9L362.8,194.3L364.5,194.5L366.1,194.2L367.8,193.8L369.4,193.8L371.1,193.9L372.7,194.2L374.4,193.9L376.0,193.4L377.6,194.4L379.3,193.8L380.9,193.1L382.6,193.6L384.2,194.0L385.9,193.5L387.5,194.2L389.2,193.8L390.8,193.1L392.5,192.9L394.1,194.6L395.8,193.5L397.4,192.9L399.0,194.0L400.7,193.7L402.3,193.1L404.0,194.0L405.6,193.6L407.3,193.8L408.9,194.7L410.6,193.6L412.2,193.8L413.9,193.3L415.5,192.8L417.2,193.4L418.8,193.9L420.4,193.5L422.1,193.6L423.7,193.3L425.4,194.4L427.0,194.3L428.7,194.7L430.3,193.4L432.0,193.7L433.6,194.0L435.3,194.0L436.9,194.0L438.6,194.1L440.2,193.8L441.8,193.9L443.5,193.0L445.1,193.5L446.8,194.1L448.4,193.9L450.1,193.1L451.7,193.5L453.4,193.5L455.0,193.3L456.7,192.9L458.3,194.2L460.0,194.0L461.6,194.5L463.2,193.4L464.9,193.8L466.5,193.9L468.2,194.0L469.8,193.3L471.5,193.7L473.1,193.9L474.8,193.0L476.4,194.1L478.1,194.2L479.7,192.4L481.3,193.8L483.0,193.8L484.6,193.9L486.3,193.6L487.9,193.2L489.6,193.2L491.2,193.3L492.9,193.7L494.5,194.3L496.2,193.4L497.8,192.8L499.5,193.1L501.1,193.6L502.7,193.2L504.4,193.7L506.0,193.6L507.7,194.1L509.3,193.7L511.0,193.5L512.6,193.6L514.3,193.2L515.9,192.6L517.6,192.9L519.2,193.7L520.9,193.8L522.5,193.8L524.1,194.0L525.8,193.5L527.4,193.3L529.1,193.4L530.7,193.4L532.4,193.4L534.0,193.5L535.7,193.8L537.3,192.7L539.0,193.0L540.6,193.9L542.2,193.9L543.9,193.7L545.5,193.4L547.2,192.9L548.8,193.0L550.5,192.9L552.1,192.9L553.8,192.9L555.4,193.1L557.1,193.2L558.7,193.5L560.4,194.2L562.0,193.5L563.6,192.6L565.3,193.7L566.9,193.7L568.6,192.9L570.2,193.4L571.9,193.6L573.5,192.7L575.2,193.1L576.8,193.0L578.5,193.6L580.1,193.1L581.8,193.2L583.4,193.0L585.0,192.8L586.7,192.8L588.3,193.3L590.0,193.0L591.6,193.9L593.3,193.0L594.9,193.0L596.6,193.5L598.2,193.7L599.9,193.3L601.5,193.9L603.2,193.2L604.8,193.2L606.4,193.7L608.1,193.3L609.7,192.8L611.4,192.8L613.0,192.8L614.7,193.4L616.3,193.4L618.0,193.5L619.6,193.0L621.3,192.2L622.9,192.6L624.6,192.5L626.2,192.6L627.8,194.0L629.5,193.3L631.1,193.4L632.8,192.7L634.4,192.5L636.1,193.5L637.7,193.2L639.4,193.0L641.0,193.5L642.7,193.5L644.3,193.5L645.9,192.8L647.6,193.6L649.2,192.7L650.9,193.2L652.5,192.8L654.2,192.5L655.8,193.5L657.5,193.6L659.1,193.0L660.8,193.7L662.4,193.5L664.1,193.2L664.1,292.5L655.8,292.5L647.6,292.5L639.4,292.5L631.1,292.9L622.9,294.3L614.7,296.0L606.4,296.2L598.2,296.4L590.0,296.6L581.8,296.7L573.5,297.0L565.3,297.2L557.1,298.8L548.8,298.8L540.6,298.8L532.4,298.8L524.1,298.8L515.9,300.7L507.7,300.9L499.5,300.9L491.2,300.9L483.0,300.9L474.8,300.9L466.5,300.9L458.3,300.9L450.1,301.8L441.8,303.7L433.6,304.2L425.4,304.3L417.2,304.5L408.9,304.6L400.7,305.1L392.5,306.0L384.2,306.0L376.0,306.0L367.8,306.0L359.5,306.0L351.3,307.3L343.1,307.2L334.9,307.2L326.6,307.2L318.4,307.2L310.2,307.2L301.9,307.2L293.7,308.6L285.5,308.6L277.2,308.6L269.0,308.6L260.8,308.6L254.2,308.6Z" fill="#b2aeff"/>
<path d="M254.2,308.6L255.8,308.6L257.5,308.6L259.1,308.6L260.8,308.6L262.4,308.6L264.1,304.4L265.7,287.5L267.4,271.5L269.0,258.1L270.7,245.6L272.3,234.7L274.0,224.6L275.6,220.0L277.2,214.4L278.9,210.1L280.5,210.2L282.2,209.1L283.8,202.4L285.5,203.7L287.1,202.6L288.8,204.7L290.4,200.4L292.1,202.5L293.7,201.2L295.4,202.1L297.0,200.2L298.6,198.8L300.3,201.4L301.9,200.0L303.6,198.2L305.2,200.1L306.9,199.9L308.5,198.9L310.2,199.7L311.8,195.7L313.5,198.5L315.1,195.0L316.7,194.5L318.4,198.2L320.0,195.7L321.7,196.5L323.3,197.5L325.0,195.9L326.6,195.6L328.3,193.8L329.9,193.2L331.6,197.0L333.2,195.7L334.9,193.9L336.5,193.9L338.1,196.8L339.8,193.7L341.4,194.8L343.1,193.3L344.7,194.9L346.4,195.2L348.0,194.4L349.7,193.4L351.3,194.3L353.0,196.2L354.6,193.6L356.3,195.4L357.9,194.9L359.5,195.0L361.2,195.6L362.8,195.1L364.5,194.9L366.1,194.6L367.8,194.1L369.4,194.3L371.1,195.3L372.7,194.2L374.4,193.3L376.0,193.3L377.6,193.9L379.3,193.5L380.9,193.3L382.6,192.9L384.2,192.7L385.9,194.3L387.5,194.3L389.2,192.8L390.8,192.7L392.5,192.8L394.1,195.9L395.8,194.2L397.4,196.7L399.0,193.4L400.7,194.0L402.3,194.0L404.0,194.1L405.6,192.9L407.3,194.2L408.9,193.1L410.6,193.5L412.2,193.7L413.9,193.6L415.5,193.9L417.2,194.9L418.8,193.4L420.4,193.4L422.1,194.1L423.7,193.4L425.4,193.2L427.0,195.0L428.7,194.1L430.3,194.3L432.0,194.7L433.6,193.7L435.3,194.6L436.9,194.3L438.6,193.7L440.2,193.6L441.8,193.6L443.5,192.3L445.1,194.3L446.8,193.7L448.4,194.9L450.1,193.5L451.7,192.9L453.4,192.9L455.0,194.4L456.7,194.1L458.3,192.8L460.0,193.9L461.6,193.1L463.2,194.7L464.9,192.7L466.5,193.0L468.2,193.5L469.8,194.5L471.5,194.0L473.1,193.7L474.8,193.6L476.4,193.9L478.1,194.0L479.7,193.7L481.3,192.7L483.0,195.5L484.6,194.9L486.3,195.1L487.9,194.4L489.6,195.2L491.2,193.3L492.9,193.7L494.5,194.0L496.2,194.3L497.8,193.7L499.5,193.6L501.1,193.5L502.7,194.4L504.4,193.2L506.0,195.0L507.7,192.7L509.3,196.3L511.0,194.2L512.6,194.7L514.3,193.1L515.9,195.0L517.6,192.3L519.2,195.0L520.9,192.3L522.5,193.4L524.1,193.7L525.8,193.4L527.4,192.3L529.1,193.0L530.7,195.5L532.4,192.7L534.0,193.5L535.7,195.0L537.3,193.1L539.0,194.7L540.6,193.5L542.2,193.5L543.9,194.2L545.5,193.1L547.2,194.5L548.8,193.5L550.5,194.1L552.1,193.8L553.8,192.3L555.4,193.6L557.1,194.5L558.7,193.7L560.4,194.3L562.0,193.6L563.6,193.5L565.3,193.6L566.9,193.6L568.6,194.1L570.2,193.2L571.9,192.7L573.5,194.1L575.2,193.7L576.8,193.6L578.5,192.6L580.1,192.7L581.8,194.2L583.4,193.5L585.0,194.8L586.7,194.4L588.3,193.6L590.0,193.1L591.6,192.8L593.3,193.8L594.9,194.7L596.6,193.2L598.2,193.7L599.9,193.2L601.5,193.4L603.2,193.0L604.8,193.0L606.4,192.8L608.1,193.9L609.7,192.7L611.4,193.9L613.0,193.4L614.7,192.3L616.3,193.2L618.0,194.5L619.6,192.3L621.3,192.7L622.9,192.6L624.6,193.3L626.2,193.2L627.8,193.7L629.5,194.1L631.1,192.3L632.8,193.8L634.4,193.9L636.1,193.8L637.7,192.3L639.4,192.7L641.0,193.8L642.7,193.5L644.3,193.0L645.9,192.7L647.6,194.8L649.2,192.7L650.9,193.6L652.5,194.0L654.2,193.7L655.8,192.8L657.5,192.3L659.1,193.3L660.8,193.0L662.4,194.1L664.1,193.0L664.1,292.5L655.8,292.5L647.6,292.5L639.4,292.5L631.1,292.9L622.9,294.3L614.7,296.0L606.4,296.2L598.2,296.4L590.0,296.6L581.8,296.7L573.5,297.0L565.3,297.2L557.1,298.8L548.8,298.8L540.6,298.8L532.4,298.8L524.1,298.8L515.9,300.7L507.7,300.9L499.5,300.9L491.2,300.9L483.0,300.9L474.8,300.9L466.5,300.9L458.3,300.9L450.1,301.8L441.8,303.7L433.6,304.2L425.4,304.3L417.2,304.5L408.9,304.6L400.7,305.1L392.5,306.0L384.2,306.0L376.0,306.0L367.8,306.0L359.5,306.0L351.3,307.3L343.1,307.2L334.9,307.2L326.6,307.2L318.4,307.2L310.2,307.2L301.9,307.2L293.7,308.6L285.5,308.6L277.2,308.6L269.0,308.6L260.8,308.6L254.2,308.6Z" fill="#ff00ff"/>
<path d="M253.6,308.6L254.2,308.6L255.0,308.6L255.8,308.6L256.7,308.6L257.5,308.6L258.3,308.6L259.1,308.6L260.0,308.6L260.8,308.6L261.6,308.6L262.4,308.6L263.3,308.6L264.1,308.6L264.9,308.6L265.7,308.6L266.5,308.6L267.4,308.6L268.2,308.6L269.0,308.6L269.8,308.6L270.7,308.6L271.5,308.6L272.3,308.6L273.1,308.6L274.0,308.6L274.8,308.6L275.6,308.6L276.4,308.6L277.2,308.6L278.1,308.6L278.9,308.6L279.7,308.6L280.5,308.6L281.4,308.6L282.2,308.6L283.0,308.6L283.8,308.6L284.7,308.6L285.5,308.6L286.3,308.6L287.1,308.6L287.9,308.6L288.8,308.6L289.6,308.6L290.4,308.6L291.2,308.6L292.1,308.6L292.9,308.6L293.7,308.6L294.5,308.6L295.4,308.6L296.2,308.6L297.0,308.6L297.8,308.6L298.6,308.5L299.5,308.1L300.3,307.6L301.1,307.2L301.9,307.2L302.8,307.2L303.6,307.2L304.4,307.2L305.2,307.2L306.0,307.2L306.9,307.2L307.7,307.2L308.5,307.2L309.3,307.2L310.2,307.2L311.0,307.2L311.8,307.2L312.6,307.2L313.5,307.2L314.3,307.2L315.1,307.2L315.9,307.2L316.7,307.2L317.6,307.2L318.4,307.2L319.2,307.2L320.0,307.2L320.9,307.2L321.7,307.2L322.5,307.2L323.3,307.2L324.2,307.2L325.0,307.2L325.8,307.2L326.6,307.2L327.4,307.2L328.3,307.2L329.1,307.2L329.9,307.2L330.7,307.2L331.6,307.2L332.4,307.2L333.2,307.2L334.0,307.2L334.9,307.2L335.7,307.2L336.5,307.2L337.3,307.2L338.1,307.2L339.0,307.2L339.8,307.2L340.6,307.2L341.4,307.2L342.3,307.2L343.1,307.2L343.9,307.2L344.7,307.2L345.6,307.2L346.4,307.2L347.2,307.2L348.0,307.2L348.8,307.2L349.7,307.2L350.5,307.2L351.3,307.3L352.1,307.6L353.0,307.8L353.8,308.0L354.6,307.8L355.4,307.2L356.3,306.6L357.1,306.0L357.9,306.0L358.7,306.0L359.5,306.0L360.4,306.0L361.2,306.0L362.0,306.0L362.8,306.0L363.7,306.0L364.5,306.0L365.3,306.0L366.1,306.0L367.0,306.0L367.8,306.0L368.6,306.0L369.4,306.0L370.2,306.0L371.1,306.0L371.9,306.0L372.7,306.0L373.5,306.0L374.4,306.0L375.2,306.0L376.0,306.0L376.8,306.0L377.6,306.0L378.5,306.0L379.3,306.0L380.1,306.0L380.9,306.0L381.8,306.0L382.6,306.0L383.4,306.0L384.2,306.0L385.1,306.0L385.9,306.0L386.7,306.0L387.5,306.0L388.3,306.0L389.2,306.0L390.0,306.0L390.8,306.0L391.6,306.0L392.5,306.0L393.3,306.0L394.1,306.0L394.9,306.0L395.8,306.0L396.6,306.0L397.4,306.0L398.2,306.0L399.0,305.7L399.9,305.4L400.7,305.1L401.5,304.8L402.3,304.7L403.2,304.7L404.0,304.7L404.8,304.7L405.6,304.7L406.5,304.7L407.3,304.7L408.1,304.6L408.9,304.6L409.7,304.6L410.6,304.6L411.4,304.6L412.2,304.6L413.0,304.6L413.9,304.5L414.7,304.5L415.5,304.5L416.3,304.5L417.2,304.5L418.0,304.5L418.8,304.5L419.6,304.4L420.4,304.4L421.3,304.4L422.1,304.4L422.9,304.4L423.7,304.4L424.6,304.4L425.4,304.3L426.2,304.3L427.0,304.3L427.9,304.3L428.7,304.3L429.5,304.3L430.3,304.3L431.1,304.2L432.0,304.2L432.8,304.2L433.6,304.2L434.4,304.2L435.3,304.2L436.1,304.1L436.9,304.1L437.7,304.0L438.6,304.0L439.4,303.9L440.2,303.8L441.0,303.8L441.8,303.7L442.7,303.7L443.5,303.6L444.3,303.6L445.1,303.5L446.0,303.5L446.8,303.4L447.6,303.4L448.4,302.8L449.3,302.3L450.1,301.8L450.9,301.3L451.7,300.9L452.5,300.9L453.4,300.9L454.2,300.9L455.0,300.9L455.8,300.9L456.7,300.9L457.5,300.9L458.3,300.9L459.1,300.9L460.0,300.9L460.8,300.9L461.6,300.9L462.4,300.9L463.2,300.9L464.1,300.9L464.9,300.9L465.7,300.9L466.5,300.9L467.4,300.9L468.2,300.9L469.0,300.9L469.8,300.9L470.6,300.9L471.5,300.9L472.3,300.9L473.1,300.9L473.9,300.9L474.8,300.9L475.6,300.9L476.4,300.9L477.2,300.9L478.1,300.9L478.9,300.9L479.7,300.9L480.5,300.9L481.3,300.9L482.2,300.9L483.0,300.9L483.8,300.9L484.6,300.9L485.5,300.9L486.3,300.9L487.1,300.9L487.9,300.9L488.8,300.9L489.6,300.9L490.4,300.9L491.2,300.9L492.0,300.9L492.9,300.9L493.7,300.9L494.5,300.9L495.3,300.9L496.2,300.9L497.0,300.9L497.8,300.9L498.6,300.9L499.5,300.9L500.3,300.9L501.1,300.9L501.9,300.9L502.7,300.9L503.6,300.9L504.4,300.9L505.2,300.9L506.0,300.9L506.9,300.9L507.7,300.9L508.5,300.9L509.3,300.9L510.2,300.9L511.0,300.9L511.8,300.9L512.6,300.9L513.4,300.9L514.3,300.9L515.1,300.9L515.9,300.7L516.7,300.2L517.6,299.8L518.4,299.4L519.2,298.9L520.0,298.8L520.9,298.8L521.7,298.8L522.5,298.8L523.3,298.8L524.1,298.8L525.0,298.8L525.8,298.8L526.6,298.8L527.4,298.8L528.3,298.8L529.1,298.8L529.9,298.8L530.7,298.8L531.6,298.8L532.4,298.8L533.2,298.8L534.0,298.8L534.8,298.8L535.7,298.8L536.5,298.8L537.3,298.8L538.1,298.8L539.0,298.8L539.8,298.8L540.6,298.8L541.4,298.8L542.2,298.8L543.1,298.8L543.9,298.8L544.7,298.8L545.5,298.8L546.4,298.8L547.2,298.8L548.0,298.8L548.8,298.8L549.7,298.8L550.5,298.8L551.3,298.8L552.1,298.8L552.9,298.8L553.8,298.8L554.6,298.8L555.4,298.8L556.2,298.8L557.1,298.8L557.9,298.8L558.7,298.8L559.5,298.3L560.4,297.7L561.2,297.3L562.0,297.3L562.8,297.2L563.6,297.2L564.5,297.2L565.3,297.2L566.1,297.2L566.9,297.1L567.8,297.1L568.6,297.1L569.4,297.1L570.2,297.0L571.1,297.0L571.9,297.0L572.7,297.0L573.5,297.0L574.3,296.9L575.2,296.9L576.0,296.9L576.8,296.9L577.6,296.9L578.5,296.8L579.3,296.8L580.1,296.8L580.9,296.8L581.8,296.7L582.6,296.7L583.4,296.7L584.2,296.7L585.0,296.7L585.9,296.6L586.7,296.6L587.5,296.6L588.3,296.6L589.2,296.6L590.0,296.6L590.8,296.5L591.6,296.5L592.5,296.5L593.3,296.5L594.1,296.5L594.9,296.4L595.7,296.4L596.6,296.4L597.4,296.4L598.2,296.4L599.0,296.3L599.9,296.3L600.7,296.3L601.5,296.3L602.3,296.3L603.2,296.2L604.0,296.2L604.8,296.2L605.6,296.2L606.4,296.2L607.3,296.1L608.1,296.1L608.9,296.1L609.7,296.1L610.6,296.1L611.4,296.1L612.2,296.0L613.0,296.0L613.9,296.0L614.7,296.0L615.5,296.0L616.3,295.9L617.1,295.9L618.0,295.9L618.8,295.7L619.6,295.4L620.4,295.1L621.3,294.7L622.1,294.5L622.9,294.3L623.7,294.2L624.6,294.0L625.4,293.9L626.2,293.7L627.0,293.6L627.8,293.4L628.7,293.3L629.5,293.2L630.3,293.0L631.1,292.9L632.0,292.7L632.8,292.6L633.6,292.5L634.4,292.5L635.2,292.5L636.1,292.5L636.9,292.5L637.7,292.5L638.5,292.5L639.4,292.5L640.2,292.5L641.0,292.5L641.8,292.5L642.7,292.5L643.5,292.5L644.3,292.5L645.1,292.5L645.9,292.5L646.8,292.5L647.6,292.5L648.4,292.5L649.2,292.5L650.1,292.5L650.9,292.5L651.7,292.5L652.5,292.5L653.4,292.5L654.2,292.5L655.0,292.5L655.8,292.5L656.6,292.5L657.5,292.5L658.3,292.5L659.1,292.5L659.9,292.5L660.8,292.5L661.6,292.5L662.4,292.5L663.2,292.5L664.1,292.5L664.9,292.5L665.7,292.5L666.0,292.5" fill="none" stroke="#000" stroke-width="3.7" stroke-linecap="butt" stroke-linejoin="round"/>
<path d="M254.2,320.0v-9.4M305.6,320.0v-9.4M357.1,320.0v-9.4M408.5,320.0v-9.4M460.0,320.0v-9.4M511.4,320.0v-9.4M562.8,320.0v-9.4M614.3,320.0v-9.4M665.7,320.0v-9.4M256.0,180.2v9.4M337.7,180.2v9.4M419.4,180.2v9.4M501.0,180.2v9.4M582.7,180.2v9.4M664.4,180.2v9.4M235.6,308.6h9.4M235.6,250.3h9.4M235.6,192.0h9.4" stroke="#111" stroke-width="1.2" fill="none"/>
<rect x="235.6" y="180.2" width="448.8" height="139.8" fill="none" stroke="#0a0a0a" stroke-width="1.3"/>
</g>
<g>
<path d="M254.2,461.4L255.8,461.4L257.5,461.4L259.1,461.4L260.8,461.4L262.4,461.4L264.1,458.4L265.7,453.0L267.4,447.6L269.0,442.2L270.7,436.8L272.3,431.0L274.0,424.3L275.6,417.5L277.2,410.8L278.9,405.8L280.5,401.0L282.2,396.1L283.8,391.3L285.5,388.2L287.1,385.1L288.8,382.8L290.4,380.2L292.1,376.8L293.7,375.9L295.4,373.9L297.0,372.7L298.6,372.1L300.3,371.1L301.9,369.1L303.6,369.3L305.2,369.0L306.9,367.7L308.5,367.2L310.2,366.9L311.8,366.3L313.5,366.0L315.1,365.9L316.7,365.5L318.4,365.7L320.0,365.6L321.7,365.1L323.3,365.1L325.0,364.7L326.6,365.0L328.3,364.8L329.9,365.0L331.6,364.0L333.2,364.9L334.9,364.2L336.5,364.5L338.1,364.0L339.8,363.7L341.4,364.5L343.1,363.9L344.7,364.4L346.4,363.2L348.0,363.7L349.7,364.1L351.3,363.7L353.0,362.9L354.6,362.7L356.3,362.7L357.9,363.4L359.5,363.0L361.2,362.3L362.8,363.1L364.5,362.7L366.1,362.8L367.8,362.7L369.4,361.6L371.1,361.6L372.7,361.5L374.4,361.3L376.0,360.9L377.6,360.6L379.3,360.9L380.9,360.9L382.6,360.9L384.2,360.0L385.9,360.4L387.5,360.5L389.2,359.9L390.8,359.6L392.5,359.1L394.1,358.9L395.8,359.3L397.4,359.1L399.0,358.7L400.7,358.9L402.3,358.3L404.0,357.9L405.6,357.8L407.3,358.2L408.9,357.8L410.6,356.7L412.2,357.4L413.9,356.6L415.5,356.5L417.2,356.7L418.8,356.9L420.4,356.3L422.1,356.6L423.7,356.2L425.4,356.0L427.0,356.2L428.7,355.9L430.3,355.8L432.0,356.1L433.6,355.6L435.3,355.6L436.9,355.9L438.6,355.3L440.2,355.2L441.8,355.2L443.5,355.6L445.1,354.4L446.8,354.4L448.4,354.3L450.1,354.3L451.7,354.7L453.4,354.1L455.0,354.4L456.7,353.2L458.3,354.1L460.0,353.6L461.6,354.3L463.2,354.1L464.9,353.8L466.5,353.3L468.2,353.3L469.8,353.4L471.5,354.1L473.1,352.9L474.8,353.6L476.4,352.6L478.1,352.5L479.7,352.8L481.3,352.7L483.0,353.4L484.6,352.0L486.3,352.9L487.9,352.6L489.6,353.4L491.2,353.1L492.9,353.5L494.5,353.2L496.2,353.2L497.8,353.1L499.5,352.8L501.1,353.1L502.7,353.2L504.4,353.4L506.0,352.7L507.7,353.6L509.3,353.0L511.0,354.2L512.6,353.9L514.3,353.4L515.9,353.6L517.6,352.5L519.2,352.7L520.9,354.2L522.5,354.1L524.1,353.8L525.8,353.1L527.4,353.3L529.1,353.7L530.7,354.3L532.4,354.1L534.0,354.8L535.7,354.4L537.3,353.7L539.0,353.6L540.6,354.4L542.2,353.9L543.9,353.4L545.5,353.9L547.2,354.1L548.8,353.8L550.5,353.9L552.1,354.0L553.8,354.3L555.4,354.2L557.1,354.1L558.7,354.3L560.4,353.7L562.0,353.8L563.6,353.8L565.3,353.5L566.9,353.6L568.6,353.7L570.2,354.1L571.9,354.3L573.5,353.4L575.2,354.5L576.8,354.5L578.5,354.6L580.1,354.2L581.8,354.2L583.4,354.0L585.0,354.4L586.7,354.9L588.3,354.2L590.0,353.9L591.6,354.2L593.3,354.3L594.9,354.0L596.6,353.7L598.2,354.2L599.9,354.6L601.5,354.3L603.2,354.1L604.8,354.7L606.4,353.7L608.1,354.3L609.7,353.8L611.4,353.9L613.0,354.0L614.7,353.3L616.3,354.1L618.0,354.1L619.6,353.7L621.3,353.5L622.9,353.8L624.6,354.1L626.2,353.4L627.8,353.4L629.5,352.8L631.1,353.6L632.8,353.3L634.4,353.5L636.1,353.8L637.7,353.2L639.4,352.8L641.0,353.4L642.7,353.2L644.3,353.3L645.9,352.3L647.6,353.0L649.2,352.5L650.9,352.9L652.5,352.5L654.2,352.7L655.8,353.2L657.5,352.3L659.1,352.1L660.8,352.9L662.4,352.2L664.1,352.2L664.1,443.7L655.8,442.4L647.6,442.9L639.4,443.1L631.1,442.7L622.9,442.7L614.7,441.5L606.4,442.9L598.2,442.8L590.0,442.8L581.8,444.3L573.5,443.9L565.3,443.8L557.1,444.1L548.8,442.9L540.6,443.9L532.4,443.9L524.1,443.6L515.9,444.6L507.7,443.5L499.5,443.4L491.2,443.6L483.0,444.4L474.8,444.4L466.5,444.9L458.3,444.3L450.1,445.6L441.8,445.8L433.6,445.4L425.4,445.3L417.2,446.0L408.9,447.4L400.7,447.5L392.5,449.1L384.2,449.5L376.0,449.3L367.8,449.7L359.5,450.2L351.3,449.8L343.1,449.5L334.9,450.3L326.6,450.8L318.4,451.6L310.2,452.4L301.9,453.4L293.7,455.2L285.5,457.1L277.2,459.5L269.0,461.4L260.8,461.4L254.2,461.4Z" fill="#ffe4bc"/>
<path d="M254.2,461.4L255.8,461.4L257.5,461.4L259.1,461.4L260.8,461.4L262.4,461.4L264.1,461.4L265.7,461.4L267.4,461.2L269.0,458.3L270.7,455.0L272.3,451.6L274.0,448.3L275.6,445.0L277.2,441.7L278.9,438.4L280.5,435.1L282.2,431.8L283.8,428.5L285.5,424.9L287.1,422.3L288.8,420.5L290.4,418.6L292.1,416.4L293.7,413.8L295.4,411.9L297.0,411.1L298.6,409.7L300.3,408.7L301.9,407.0L303.6,405.4L305.2,405.5L306.9,403.5L308.5,403.2L310.2,403.3L311.8,401.7L313.5,401.3L315.1,400.5L316.7,400.5L318.4,398.7L320.0,398.8L321.7,398.6L323.3,397.6L325.0,397.5L326.6,397.1L328.3,396.6L329.9,397.3L331.6,395.6L333.2,396.0L334.9,395.4L336.5,394.8L338.1,395.0L339.8,394.2L341.4,393.7L343.1,393.7L344.7,393.4L346.4,394.1L348.0,393.8L349.7,393.7L351.3,393.0L353.0,391.7L354.6,392.9L356.3,392.9L357.9,392.8L359.5,392.3L361.2,392.3L362.8,392.9L364.5,391.9L366.1,392.1L367.8,391.5L369.4,392.4L371.1,392.0L372.7,391.0L374.4,391.7L376.0,390.7L377.6,390.5L379.3,390.3L380.9,390.1L382.6,389.9L384.2,389.6L385.9,389.7L387.5,389.4L389.2,388.1L390.8,388.6L392.5,388.5L394.1,388.4L395.8,388.6L397.4,388.0L399.0,388.0L400.7,387.4L402.3,387.8L404.0,388.1L405.6,387.2L407.3,386.6L408.9,385.7L410.6,386.0L412.2,386.5L413.9,386.1L415.5,386.2L417.2,385.7L418.8,385.8L420.4,385.9L422.1,385.0L423.7,384.9L425.4,384.9L427.0,384.5L428.7,383.8L430.3,384.3L432.0,384.3L433.6,383.7L435.3,384.4L436.9,383.4L438.6,383.8L440.2,383.6L441.8,383.1L443.5,382.4L445.1,383.1L446.8,382.3L448.4,382.4L450.1,382.8L451.7,381.8L453.4,382.3L455.0,382.4L456.7,382.0L458.3,381.8L460.0,381.2L461.6,381.5L463.2,380.6L464.9,380.9L466.5,381.1L468.2,381.1L469.8,380.5L471.5,381.2L473.1,381.1L474.8,380.5L476.4,379.9L478.1,379.9L479.7,379.8L481.3,379.8L483.0,380.3L484.6,379.6L486.3,380.2L487.9,379.3L489.6,379.7L491.2,379.8L492.9,379.6L494.5,379.7L496.2,379.8L497.8,379.8L499.5,380.2L501.1,380.6L502.7,380.0L504.4,379.7L506.0,379.9L507.7,380.4L509.3,380.1L511.0,380.6L512.6,380.3L514.3,380.7L515.9,380.5L517.6,379.8L519.2,380.3L520.9,380.1L522.5,380.9L524.1,380.9L525.8,380.7L527.4,380.5L529.1,380.8L530.7,380.4L532.4,381.0L534.0,380.3L535.7,380.5L537.3,381.3L539.0,380.7L540.6,381.0L542.2,380.6L543.9,381.2L545.5,380.9L547.2,380.9L548.8,382.1L550.5,381.8L552.1,381.1L553.8,381.2L555.4,380.8L557.1,381.1L558.7,381.7L560.4,381.1L562.0,381.5L563.6,381.3L565.3,381.5L566.9,381.2L568.6,381.8L570.2,381.7L571.9,382.2L573.5,380.6L575.2,381.8L576.8,381.7L578.5,381.9L580.1,381.7L581.8,381.6L583.4,381.3L585.0,381.4L586.7,381.3L588.3,381.5L590.0,381.3L591.6,380.8L593.3,381.2L594.9,381.0L596.6,381.8L598.2,380.8L599.9,380.8L601.5,380.4L603.2,381.8L604.8,380.8L606.4,380.7L608.1,380.6L609.7,380.8L611.4,380.5L613.0,380.2L614.7,380.4L616.3,380.5L618.0,380.4L619.6,380.4L621.3,380.2L622.9,380.4L624.6,380.8L626.2,379.5L627.8,380.5L629.5,379.8L631.1,380.2L632.8,379.7L634.4,379.9L636.1,379.4L637.7,379.6L639.4,379.7L641.0,379.0L642.7,378.6L644.3,378.8L645.9,378.8L647.6,379.1L649.2,378.7L650.9,378.4L652.5,378.7L654.2,378.0L655.8,378.3L657.5,378.0L659.1,378.3L660.8,378.2L662.4,377.8L664.1,377.7L664.1,443.7L655.8,442.4L647.6,442.9L639.4,443.1L631.1,442.7L622.9,442.7L614.7,441.5L606.4,442.9L598.2,442.8L590.0,442.8L581.8,444.3L573.5,443.9L565.3,443.8L557.1,444.1L548.8,442.9L540.6,443.9L532.4,443.9L524.1,443.6L515.9,444.6L507.7,443.5L499.5,443.4L491.2,443.6L483.0,444.4L474.8,444.4L466.5,444.9L458.3,444.3L450.1,445.6L441.8,445.8L433.6,445.4L425.4,445.3L417.2,446.0L408.9,447.4L400.7,447.5L392.5,449.1L384.2,449.5L376.0,449.3L367.8,449.7L359.5,450.2L351.3,449.8L343.1,449.5L334.9,450.3L326.6,450.8L318.4,451.6L310.2,452.4L301.9,453.4L293.7,455.2L285.5,457.1L277.2,459.5L269.0,461.4L260.8,461.4L254.2,461.4Z" fill="#9aeee0"/>
<path d="M254.2,461.4L255.8,461.4L257.5,461.4L259.1,461.4L260.8,461.4L262.4,461.4L264.1,461.4L265.7,461.4L267.4,461.4L269.0,461.4L270.7,461.0L272.3,459.5L274.0,458.0L275.6,456.6L277.2,455.1L278.9,453.6L280.5,452.2L282.2,450.7L283.8,449.2L285.5,448.0L287.1,446.2L288.8,444.1L290.4,442.3L292.1,440.3L293.7,440.0L295.4,438.1L297.0,436.8L298.6,435.4L300.3,433.8L301.9,432.5L303.6,431.4L305.2,430.9L306.9,429.9L308.5,429.0L310.2,428.1L311.8,428.3L313.5,427.8L315.1,427.1L316.7,427.1L318.4,426.2L320.0,426.6L321.7,426.0L323.3,426.3L325.0,425.7L326.6,425.3L328.3,424.6L329.9,425.2L331.6,424.6L333.2,425.2L334.9,424.7L336.5,424.4L338.1,424.1L339.8,423.6L341.4,423.4L343.1,424.0L344.7,423.1L346.4,423.5L348.0,422.3L349.7,422.7L351.3,422.5L353.0,422.5L354.6,422.3L356.3,422.1L357.9,422.2L359.5,421.5L361.2,421.5L362.8,421.2L364.5,421.3L366.1,420.8L367.8,421.1L369.4,419.4L371.1,420.7L372.7,420.5L374.4,419.8L376.0,419.5L377.6,420.0L379.3,420.1L380.9,419.9L382.6,419.5L384.2,419.3L385.9,418.9L387.5,418.2L389.2,418.0L390.8,418.5L392.5,417.9L394.1,417.5L395.8,417.2L397.4,417.6L399.0,417.6L400.7,416.9L402.3,416.4L404.0,417.0L405.6,415.9L407.3,415.8L408.9,416.3L410.6,416.6L412.2,416.1L413.9,415.8L415.5,415.4L417.2,416.0L418.8,414.4L420.4,414.3L422.1,415.3L423.7,415.6L425.4,414.8L427.0,414.5L428.7,414.0L430.3,414.1L432.0,414.3L433.6,414.8L435.3,413.8L436.9,413.6L438.6,413.9L440.2,413.5L441.8,413.4L443.5,413.4L445.1,413.6L446.8,413.0L448.4,413.5L450.1,412.3L451.7,413.0L453.4,412.4L455.0,412.7L456.7,412.2L458.3,412.3L460.0,412.0L461.6,412.3L463.2,412.5L464.9,412.0L466.5,411.9L468.2,412.2L469.8,411.8L471.5,412.1L473.1,411.3L474.8,411.4L476.4,411.2L478.1,410.1L479.7,410.9L481.3,410.7L483.0,410.6L484.6,410.8L486.3,410.9L487.9,410.4L489.6,410.3L491.2,411.8L492.9,410.8L494.5,410.8L496.2,410.9L497.8,410.3L499.5,410.9L501.1,410.4L502.7,410.9L504.4,410.9L506.0,410.5L507.7,411.0L509.3,410.8L511.0,411.1L512.6,411.0L514.3,410.5L515.9,410.5L517.6,411.1L519.2,411.1L520.9,409.8L522.5,410.9L524.1,411.0L525.8,410.5L527.4,411.0L529.1,410.8L530.7,410.4L532.4,410.4L534.0,410.8L535.7,410.2L537.3,410.8L539.0,410.8L540.6,410.7L542.2,410.8L543.9,410.5L545.5,410.6L547.2,411.1L548.8,410.8L550.5,411.1L552.1,411.2L553.8,411.1L555.4,410.7L557.1,411.1L558.7,410.8L560.4,410.7L562.0,411.4L563.6,411.6L565.3,411.8L566.9,411.4L568.6,411.3L570.2,411.1L571.9,412.2L573.5,411.5L575.2,411.5L576.8,411.0L578.5,411.9L580.1,412.0L581.8,412.6L583.4,412.4L585.0,412.5L586.7,412.3L588.3,412.2L590.0,412.4L591.6,411.8L593.3,411.5L594.9,411.3L596.6,411.5L598.2,411.0L599.9,410.9L601.5,411.7L603.2,411.2L604.8,411.5L606.4,411.3L608.1,410.8L609.7,410.8L611.4,410.2L613.0,409.9L614.7,410.4L616.3,410.5L618.0,410.4L619.6,410.3L621.3,410.0L622.9,410.3L624.6,409.8L626.2,410.0L627.8,409.4L629.5,409.2L631.1,409.0L632.8,409.6L634.4,409.9L636.1,409.9L637.7,409.3L639.4,409.6L641.0,409.6L642.7,409.1L644.3,409.2L645.9,408.5L647.6,408.0L649.2,408.6L650.9,408.3L652.5,408.9L654.2,408.2L655.8,408.4L657.5,408.5L659.1,408.6L660.8,407.3L662.4,408.4L664.1,408.1L664.1,443.7L655.8,442.4L647.6,442.9L639.4,443.1L631.1,442.7L622.9,442.7L614.7,441.5L606.4,442.9L598.2,442.8L590.0,442.8L581.8,444.3L573.5,443.9L565.3,443.8L557.1,444.1L548.8,442.9L540.6,443.9L532.4,443.9L524.1,443.6L515.9,444.6L507.7,443.5L499.5,443.4L491.2,443.6L483.0,444.4L474.8,444.4L466.5,444.9L458.3,444.3L450.1,445.6L441.8,445.8L433.6,445.4L425.4,445.3L417.2,446.0L408.9,447.4L400.7,447.5L392.5,449.1L384.2,449.5L376.0,449.3L367.8,449.7L359.5,450.2L351.3,449.8L343.1,449.5L334.9,450.3L326.6,450.8L318.4,451.6L310.2,452.4L301.9,453.4L293.7,455.2L285.5,457.1L277.2,459.5L269.0,461.4L260.8,461.4L254.2,461.4Z" fill="#b0aeff"/>
<path d="M253.6,461.4L254.2,461.4L255.0,461.4L255.8,461.4L256.7,461.4L257.5,461.4L258.3,461.4L259.1,461.4L260.0,461.4L260.8,461.4L261.6,461.4L262.4,461.4L263.3,461.4L264.1,461.4L264.9,461.4L265.7,461.4L266.5,461.4L267.4,461.4L268.2,461.4L269.0,461.4L269.8,461.4L270.7,461.2L271.5,461.2L272.3,461.0L273.1,460.7L274.0,460.5L274.8,460.2L275.6,460.1L276.4,459.8L277.2,459.5L278.1,459.2L278.9,458.9L279.7,458.6L280.5,458.4L281.4,458.2L282.2,457.9L283.0,457.7L283.8,457.5L284.7,457.3L285.5,457.1L286.3,456.9L287.1,456.6L287.9,456.4L288.8,456.2L289.6,456.1L290.4,455.9L291.2,455.7L292.1,455.5L292.9,455.3L293.7,455.2L294.5,455.0L295.4,454.7L296.2,454.4L297.0,454.2L297.8,454.1L298.6,453.9L299.5,453.7L300.3,453.5L301.1,453.4L301.9,453.4L302.8,453.3L303.6,453.1L304.4,453.0L305.2,452.9L306.0,452.9L306.9,452.8L307.7,452.7L308.5,452.6L309.3,452.5L310.2,452.4L311.0,452.4L311.8,452.2L312.6,452.1L313.5,452.0L314.3,451.9L315.1,451.8L315.9,451.9L316.7,451.6L317.6,451.5L318.4,451.6L319.2,451.6L320.0,451.8L320.9,451.7L321.7,451.4L322.5,451.2L323.3,451.2L324.2,451.1L325.0,450.9L325.8,450.8L326.6,450.8L327.4,450.9L328.3,450.9L329.1,450.9L329.9,450.7L330.7,450.6L331.6,450.8L332.4,450.5L333.2,450.8L334.0,450.6L334.9,450.3L335.7,450.3L336.5,450.3L337.3,450.5L338.1,450.3L339.0,450.0L339.8,449.8L340.6,449.7L341.4,450.1L342.3,449.9L343.1,449.5L343.9,449.5L344.7,449.6L345.6,449.9L346.4,449.9L347.2,449.9L348.0,449.5L348.8,449.4L349.7,450.3L350.5,450.3L351.3,449.8L352.1,449.9L353.0,450.7L353.8,450.3L354.6,449.8L355.4,450.2L356.3,450.1L357.1,450.3L357.9,450.7L358.7,450.3L359.5,450.2L360.4,450.3L361.2,450.2L362.0,450.2L362.8,450.1L363.7,450.8L364.5,450.6L365.3,450.2L366.1,450.1L367.0,449.9L367.8,449.7L368.6,449.7L369.4,450.6L370.2,450.5L371.1,449.8L371.9,449.8L372.7,450.0L373.5,449.5L374.4,449.3L375.2,449.4L376.0,449.3L376.8,449.9L377.6,450.1L378.5,449.7L379.3,449.4L380.1,449.5L380.9,449.9L381.8,449.9L382.6,449.6L383.4,449.5L384.2,449.5L385.1,448.7L385.9,448.5L386.7,449.1L387.5,449.1L388.3,448.5L389.2,448.2L390.0,448.6L390.8,449.1L391.6,449.4L392.5,449.1L393.3,448.7L394.1,449.0L394.9,449.2L395.8,448.7L396.6,448.8L397.4,449.2L398.2,448.5L399.0,447.9L399.9,447.7L400.7,447.5L401.5,447.0L402.3,447.0L403.2,447.3L404.0,446.9L404.8,446.3L405.6,446.5L406.5,447.1L407.3,447.1L408.1,447.3L408.9,447.4L409.7,447.4L410.6,447.4L411.4,446.4L412.2,446.2L413.0,445.9L413.9,445.9L414.7,446.2L415.5,446.3L416.3,446.1L417.2,446.0L418.0,445.8L418.8,445.4L419.6,445.6L420.4,446.3L421.3,446.2L422.1,445.5L422.9,445.5L423.7,445.7L424.6,445.6L425.4,445.3L426.2,446.2L427.0,446.1L427.9,445.2L428.7,445.5L429.5,445.8L430.3,445.8L431.1,445.5L432.0,445.9L432.8,445.8L433.6,445.4L434.4,445.2L435.3,445.0L436.1,445.4L436.9,445.5L437.7,445.3L438.6,445.2L439.4,445.2L440.2,445.4L441.0,445.9L441.8,445.8L442.7,445.8L443.5,445.8L444.3,445.4L445.1,445.5L446.0,445.9L446.8,445.3L447.6,445.1L448.4,445.3L449.3,445.4L450.1,445.6L450.9,445.4L451.7,444.7L452.5,444.4L453.4,445.3L454.2,445.2L455.0,444.5L455.8,444.5L456.7,445.0L457.5,445.1L458.3,444.3L459.1,444.5L460.0,444.9L460.8,444.8L461.6,445.2L462.4,445.1L463.2,444.5L464.1,444.1L464.9,444.5L465.7,444.9L466.5,444.9L467.4,445.3L468.2,444.9L469.0,443.9L469.8,443.7L470.6,444.2L471.5,444.2L472.3,443.8L473.1,444.2L473.9,444.4L474.8,444.4L475.6,444.3L476.4,443.7L477.2,444.0L478.1,444.7L478.9,444.3L479.7,443.9L480.5,444.6L481.3,444.8L482.2,444.5L483.0,444.4L483.8,444.1L484.6,443.7L485.5,443.8L486.3,444.0L487.1,444.1L487.9,443.9L488.8,443.4L489.6,443.7L490.4,444.2L491.2,443.6L492.0,443.2L492.9,443.9L493.7,444.6L494.5,444.4L495.3,443.7L496.2,443.8L497.0,444.1L497.8,444.1L498.6,443.9L499.5,443.4L500.3,443.9L501.1,444.3L501.9,444.0L502.7,444.1L503.6,444.3L504.4,444.0L505.2,443.6L506.0,443.6L506.9,443.3L507.7,443.5L508.5,443.8L509.3,443.8L510.2,443.9L511.0,443.7L511.8,443.8L512.6,444.2L513.4,443.8L514.3,443.4L515.1,444.0L515.9,444.6L516.7,444.3L517.6,443.6L518.4,443.3L519.2,443.2L520.0,443.5L520.9,443.7L521.7,443.9L522.5,444.1L523.3,443.4L524.1,443.6L525.0,443.9L525.8,443.7L526.6,443.6L527.4,443.3L528.3,443.6L529.1,443.6L529.9,443.6L530.7,444.1L531.6,444.0L532.4,443.9L533.2,443.8L534.0,443.6L534.8,443.5L535.7,443.0L536.5,442.9L537.3,443.6L538.1,443.6L539.0,443.3L539.8,443.5L540.6,443.9L541.4,444.0L542.2,443.7L543.1,443.3L543.9,443.2L544.7,443.4L545.5,443.4L546.4,443.5L547.2,443.6L548.0,443.1L548.8,442.9L549.7,442.9L550.5,443.3L551.3,443.6L552.1,443.8L552.9,443.6L553.8,443.5L554.6,444.0L555.4,444.1L556.2,443.7L557.1,444.1L557.9,444.5L558.7,443.7L559.5,443.4L560.4,443.6L561.2,444.1L562.0,443.6L562.8,443.0L563.6,443.2L564.5,443.8L565.3,443.8L566.1,443.2L566.9,443.5L567.8,443.8L568.6,443.9L569.4,443.7L570.2,443.6L571.1,443.8L571.9,444.2L572.7,444.5L573.5,443.9L574.3,443.1L575.2,443.1L576.0,443.2L576.8,443.5L577.6,443.9L578.5,443.7L579.3,443.7L580.1,443.4L580.9,443.7L581.8,444.3L582.6,444.0L583.4,444.0L584.2,443.7L585.0,444.0L585.9,443.9L586.7,443.1L587.5,443.2L588.3,443.1L589.2,442.5L590.0,442.8L590.8,443.1L591.6,443.0L592.5,443.0L593.3,443.2L594.1,443.5L594.9,443.1L595.7,443.0L596.6,442.9L597.4,442.5L598.2,442.8L599.0,442.9L599.9,442.7L600.7,442.8L601.5,442.5L602.3,442.4L603.2,442.6L604.0,443.0L604.8,442.9L605.6,442.7L606.4,442.9L607.3,442.1L608.1,441.5L608.9,441.9L609.7,442.7L610.6,442.4L611.4,442.1L612.2,442.1L613.0,442.4L613.9,442.2L614.7,441.5L615.5,442.2L616.3,442.8L617.1,442.6L618.0,442.3L618.8,442.6L619.6,442.8L620.4,442.4L621.3,442.6L622.1,442.4L622.9,442.7L623.7,443.3L624.6,443.0L625.4,442.5L626.2,442.4L627.0,442.9L627.8,442.7L628.7,442.6L629.5,442.9L630.3,442.9L631.1,442.7L632.0,441.9L632.8,442.3L633.6,443.0L634.4,442.8L635.2,442.9L636.1,442.5L636.9,442.2L637.7,442.4L638.5,442.8L639.4,443.1L640.2,443.0L641.0,442.8L641.8,443.0L642.7,442.8L643.5,443.0L644.3,443.3L645.1,442.8L645.9,442.7L646.8,442.7L647.6,442.9L648.4,442.9L649.2,442.9L650.1,442.7L650.9,442.3L651.7,442.5L652.5,442.4L653.4,442.4L654.2,442.9L655.0,442.6L655.8,442.4L656.6,442.5L657.5,442.5L658.3,442.5L659.1,442.8L659.9,443.4L660.8,443.6L661.6,443.1L662.4,443.2L663.2,443.8L664.1,443.7L664.9,443.2L665.7,442.7L666.0,443.0" fill="none" stroke="#000" stroke-width="3.7" stroke-linecap="butt" stroke-linejoin="round"/>
<g>
<clipPath id="lg"><rect x="577.8" y="335.5" width="102" height="87.4" rx="3" ry="3"/></clipPath>
<g clip-path="url(#lg)">
<rect x="663.6" y="351.4" width="9.3" height="25.6" fill="#ffe4bc"/>
<rect x="663.6" y="376.9" width="9.3" height="30.7" fill="#9aeee0"/>
<rect x="663.6" y="407.5" width="9.3" height="16" fill="#b0aeff"/>
</g>
<rect x="577.8" y="335.5" width="102" height="87.4" rx="3" ry="3" fill="#fff" fill-opacity="0.8" stroke="#ccc" stroke-width="1"/>
<path d="M580,344.7H607.2" stroke="#000" stroke-width="3.8"/>
<rect x="582" y="357.8" width="23.2" height="8.2" fill="#ff00ff"/>
<rect x="582" y="374.5" width="23.2" height="8.2" fill="#aeaaf2"/>
<rect x="582" y="391.2" width="23.2" height="8.2" fill="#96ebdc"/>
<rect x="582" y="407.9" width="23.2" height="8.2" fill="#f5d7b4"/>
<g font-family="'Liberation Sans', Arial, Helvetica, sans-serif" fill="#111" font-size="10.9">
<text x="613.8" y="348.6">GS</text>
<text x="611" y="365.8">98% of GS</text>
<text x="611" y="382.5">96% of GS</text>
<text x="611" y="399.2">94% of GS</text>
<text x="611" y="415.9">88% of GS</text>
</g></g>
<path d="M254.2,473.7v-9.4M305.6,473.7v-9.4M357.1,473.7v-9.4M408.5,473.7v-9.4M460.0,473.7v-9.4M511.4,473.7v-9.4M562.8,473.7v-9.4M614.3,473.7v-9.4M665.7,473.7v-9.4M256.0,330.0v9.4M337.7,330.0v9.4M419.4,330.0v9.4M501.0,330.0v9.4M582.7,330.0v9.4M664.4,330.0v9.4M235.6,461.4h9.4M235.6,401.6h9.4M235.6,341.8h9.4" stroke="#111" stroke-width="1.2" fill="none"/>
<rect x="235.6" y="330.0" width="448.8" height="143.7" fill="none" stroke="#0a0a0a" stroke-width="1.3"/>
</g>
<g font-family="'Liberation Sans', Arial, Helvetica, sans-serif" fill="#111" stroke="#111" stroke-width="0.3">
<g font-size="16.8">
<text x="228.6" y="166.7" text-anchor="end">0.0</text>
<text x="228.6" y="116.0" text-anchor="end">0.5</text>
<text x="228.6" y="65.2" text-anchor="end">1.0</text>
<text transform="translate(188.9,108.9) rotate(-90)" text-anchor="middle" font-size="17.4">Success rate</text>
<text x="228.6" y="314.4" text-anchor="end">0.0</text>
<text x="228.6" y="256.1" text-anchor="end">0.5</text>
<text x="228.6" y="197.8" text-anchor="end">1.0</text>
<text transform="translate(188.9,248.8) rotate(-90)" text-anchor="middle" font-size="17.4">Success rate</text>
<text x="228.6" y="467.2" text-anchor="end">0.0</text>
<text x="228.6" y="407.4" text-anchor="end">0.5</text>
<text x="228.6" y="347.6" text-anchor="end">1.0</text>
<text transform="translate(188.9,400.6) rotate(-90)" text-anchor="middle" font-size="17.4">Success rate</text>
<text x="256.2" y="39.6" text-anchor="middle">0</text>
<text x="337.9" y="39.6" text-anchor="middle">2</text>
<text x="419.6" y="39.6" text-anchor="middle">4</text>
<text x="501.2" y="39.6" text-anchor="middle">6</text>
<text x="582.9" y="39.6" text-anchor="middle">8</text>
<text x="664.6" y="39.6" text-anchor="middle">10</text>
<text x="254.2" y="492.7" text-anchor="middle">0</text>
<text x="305.6" y="492.7" text-anchor="middle">250</text>
<text x="357.1" y="492.7" text-anchor="middle">500</text>
<text x="408.5" y="492.7" text-anchor="middle">750</text>
<text x="460.0" y="492.7" text-anchor="middle">1000</text>
<text x="511.4" y="492.7" text-anchor="middle">1250</text>
<text x="562.8" y="492.7" text-anchor="middle">1500</text>
<text x="614.3" y="492.7" text-anchor="middle">1750</text>
<text x="664.5" y="492.7" text-anchor="middle">2000</text>
<text x="457.1" y="13.2" text-anchor="middle" font-size="17.4">Calculation time (ms)</text>
<text x="461.5" y="518.6" text-anchor="middle" font-size="17.4">Cavity roundtrip <tspan font-style="italic">Z</tspan></text>
</g>
</g>
<g stroke-width="2" fill="none" stroke-linecap="butt">
<path d="M51.7,80.5H142.5M51.7,98.7H142.5M51.7,116.9H142.5M51.7,135.1H142.5M51.7,153.3H142.5M51.7,80.5V153.3M69.9,80.5V153.3M88.0,80.5V153.3M106.2,80.5V153.3M124.4,80.5V153.3M142.5,80.5V153.3" stroke="#0d0dff"/>
</g>
<g fill="#000">
<circle cx="51.7" cy="80.5" r="3"/>
<circle cx="69.9" cy="80.5" r="3"/>
<circle cx="88.0" cy="80.5" r="3"/>
<circle cx="106.2" cy="80.5" r="3"/>
<circle cx="124.4" cy="80.5" r="3"/>
<circle cx="142.5" cy="80.5" r="3"/>
<circle cx="51.7" cy="98.7" r="3"/>
<circle cx="69.9" cy="98.7" r="3"/>
<circle cx="88.0" cy="98.7" r="3"/>
<circle cx="106.2" cy="98.7" r="3"/>
<circle cx="124.4" cy="98.7" r="3"/>
<circle cx="142.5" cy="98.7" r="3"/>
<circle cx="51.7" cy="116.9" r="3"/>
<circle cx="69.9" cy="116.9" r="3"/>
<circle cx="88.0" cy="116.9" r="3"/>
<circle cx="106.2" cy="116.9" r="3"/>
<circle cx="124.4" cy="116.9" r="3"/>
<circle cx="142.5" cy="116.9" r="3"/>
<circle cx="51.7" cy="135.1" r="3"/>
<circle cx="69.9" cy="135.1" r="3"/>
<circle cx="88.0" cy="135.1" r="3"/>
<circle cx="106.2" cy="135.1" r="3"/>
<circle cx="124.4" cy="135.1" r="3"/>
<circle cx="142.5" cy="135.1" r="3"/>
<circle cx="51.7" cy="153.3" r="3"/>
<circle cx="69.9" cy="153.3" r="3"/>
<circle cx="88.0" cy="153.3" r="3"/>
<circle cx="106.2" cy="153.3" r="3"/>
<circle cx="124.4" cy="153.3" r="3"/>
<circle cx="142.5" cy="153.3" r="3"/>
</g>
<g stroke-width="2" fill="none" stroke-linecap="butt">
<path d="M51.7,230.3H142.5M51.7,248.3H142.5M51.7,266.4H142.5M51.7,284.4H142.5M51.7,302.5H142.5M51.7,230.3V302.5M69.9,230.3V302.5M88.0,230.3V302.5M106.2,230.3V302.5M124.4,230.3V302.5M142.5,230.3V302.5M51.7,230.3L69.9,248.3M69.9,230.3L88.0,248.3M88.0,230.3L106.2,248.3M106.2,230.3L124.4,248.3M124.4,230.3L142.5,248.3M51.7,248.3L69.9,266.4M69.9,248.3L88.0,266.4M88.0,248.3L106.2,266.4M106.2,248.3L124.4,266.4M124.4,248.3L142.5,266.4M51.7,266.4L69.9,284.4M69.9,266.4L88.0,284.4M88.0,266.4L106.2,284.4M106.2,266.4L124.4,284.4M124.4,266.4L142.5,284.4M51.7,284.4L69.9,302.5M69.9,284.4L88.0,302.5M88.0,284.4L106.2,302.5M106.2,284.4L124.4,302.5M124.4,284.4L142.5,302.5" stroke="#0d0dff"/>
</g>
<g fill="#000">
<circle cx="51.7" cy="230.3" r="3"/>
<circle cx="69.9" cy="230.3" r="3"/>
<circle cx="88.0" cy="230.3" r="3"/>
<circle cx="106.2" cy="230.3" r="3"/>
<circle cx="124.4" cy="230.3" r="3"/>
<circle cx="142.5" cy="230.3" r="3"/>
<circle cx="51.7" cy="248.3" r="3"/>
<circle cx="69.9" cy="248.3" r="3"/>
<circle cx="88.0" cy="248.3" r="3"/>
<circle cx="106.2" cy="248.3" r="3"/>
<circle cx="124.4" cy="248.3" r="3"/>
<circle cx="142.5" cy="248.3" r="3"/>
<circle cx="51.7" cy="266.4" r="3"/>
<circle cx="69.9" cy="266.4" r="3"/>
<circle cx="88.0" cy="266.4" r="3"/>
<circle cx="106.2" cy="266.4" r="3"/>
<circle cx="124.4" cy="266.4" r="3"/>
<circle cx="142.5" cy="266.4" r="3"/>
<circle cx="51.7" cy="284.4" r="3"/>
<circle cx="69.9" cy="284.4" r="3"/>
<circle cx="88.0" cy="284.4" r="3"/>
<circle cx="106.2" cy="284.4" r="3"/>
<circle cx="124.4" cy="284.4" r="3"/>
<circle cx="142.5" cy="284.4" r="3"/>
<circle cx="51.7" cy="302.5" r="3"/>
<circle cx="69.9" cy="302.5" r="3"/>
<circle cx="88.0" cy="302.5" r="3"/>
<circle cx="106.2" cy="302.5" r="3"/>
<circle cx="124.4" cy="302.5" r="3"/>
<circle cx="142.5" cy="302.5" r="3"/>
</g>
<g stroke-width="2" fill="none" stroke-linecap="butt">
<path d="M51.7,384.0H69.9M106.2,384.0H124.4M51.7,402.1H69.9M88.0,402.1H106.2M106.2,402.1H124.4M51.7,420.2H69.9M69.9,420.2H88.0M88.0,420.2H106.2M124.4,420.2H142.5M51.7,438.2H69.9M69.9,438.2H88.0M88.0,438.2H106.2M106.2,438.2H124.4M124.4,438.2H142.5M51.7,456.3H69.9M69.9,456.3H88.0M88.0,456.3H106.2M124.4,456.3H142.5M51.7,384.0V402.1M69.9,384.0V402.1M88.0,384.0V402.1M106.2,384.0V402.1M51.7,402.1V420.2M69.9,402.1V420.2M88.0,402.1V420.2M142.5,402.1V420.2M88.0,420.2V438.2M106.2,420.2V438.2M124.4,420.2V438.2M88.0,438.2V456.3M124.4,438.2V456.3" stroke="#ff0d0d"/>
<path d="M69.9,384.0H88.0M88.0,384.0H106.2M124.4,384.0H142.5M69.9,402.1H88.0M124.4,402.1H142.5M106.2,420.2H124.4M106.2,456.3H124.4M124.4,384.0V402.1M142.5,384.0V402.1M106.2,402.1V420.2M124.4,402.1V420.2M51.7,420.2V438.2M69.9,420.2V438.2M142.5,420.2V438.2M51.7,438.2V456.3M69.9,438.2V456.3M106.2,438.2V456.3M142.5,438.2V456.3" stroke="#0d0dff"/>
</g>
<g fill="#000">
<circle cx="51.7" cy="384.0" r="3"/>
<circle cx="69.9" cy="384.0" r="3"/>
<circle cx="88.0" cy="384.0" r="3"/>
<circle cx="106.2" cy="384.0" r="3"/>
<circle cx="124.4" cy="384.0" r="3"/>
<circle cx="142.5" cy="384.0" r="3"/>
<circle cx="51.7" cy="402.1" r="3"/>
<circle cx="69.9" cy="402.1" r="3"/>
<circle cx="88.0" cy="402.1" r="3"/>
<circle cx="106.2" cy="402.1" r="3"/>
<circle cx="124.4" cy="402.1" r="3"/>
<circle cx="142.5" cy="402.1" r="3"/>
<circle cx="51.7" cy="420.2" r="3"/>
<circle cx="69.9" cy="420.2" r="3"/>
<circle cx="88.0" cy="420.2" r="3"/>
<circle cx="106.2" cy="420.2" r="3"/>
<circle cx="124.4" cy="420.2" r="3"/>
<circle cx="142.5" cy="420.2" r="3"/>
<circle cx="51.7" cy="438.2" r="3"/>
<circle cx="69.9" cy="438.2" r="3"/>
<circle cx="88.0" cy="438.2" r="3"/>
<circle cx="106.2" cy="438.2" r="3"/>
<circle cx="124.4" cy="438.2" r="3"/>
<circle cx="142.5" cy="438.2" r="3"/>
<circle cx="51.7" cy="456.3" r="3"/>
<circle cx="69.9" cy="456.3" r="3"/>
<circle cx="88.0" cy="456.3" r="3"/>
<circle cx="106.2" cy="456.3" r="3"/>
<circle cx="124.4" cy="456.3" r="3"/>
<circle cx="142.5" cy="456.3" r="3"/>
</g>
<g font-family="'Liberation Sans', Arial, Helvetica, sans-serif" fill="#111" stroke="#111" stroke-width="0.25" font-size="13.1">
<text x="32.6" y="54.8">Square lattice</text>
<text x="33.2" y="72.3"><tspan font-style="italic">N</tspan> = 1936</text>
<text x="0.8" y="153.5" font-size="13.9"><tspan font-style="italic">J</tspan><tspan font-style="italic" font-size="10.5" dy="4.7">ij</tspan><tspan dy="-4.7"> = −1</tspan></text>
<text x="45.6" y="173.2" font-size="13.9"><tspan font-style="italic">J</tspan><tspan font-style="italic" font-size="10.5" dy="4.7">ij</tspan><tspan dy="-4.7"> = −1</tspan></text>
<text x="32.6" y="207.5">Triangular lattice</text>
<text x="33.2" y="224.2"><tspan font-style="italic">N</tspan> = 1764</text>
<text x="0.8" y="304.0" font-size="13.9"><tspan font-style="italic">J</tspan><tspan font-style="italic" font-size="10.5" dy="4.7">ij</tspan><tspan dy="-4.7"> = −1</tspan></text>
<text x="45.6" y="324.9" font-size="13.9"><tspan font-style="italic">J</tspan><tspan font-style="italic" font-size="10.5" dy="4.7">ij</tspan><tspan dy="-4.7"> = −1</tspan></text>
<text x="32.6" y="361.9">Random lattice</text>
<text x="33.2" y="377.1"><tspan font-style="italic">N</tspan> = 100</text>
<text x="0.8" y="455.0" font-size="13.9"><tspan font-style="italic">J</tspan><tspan font-style="italic" font-size="10.5" dy="4.7">ij</tspan><tspan dy="-4.7"> = −1</tspan></text>
<text x="45.6" y="477.0" font-size="13.9"><tspan font-style="italic">J</tspan><tspan font-style="italic" font-size="10.5" dy="4.7">ij</tspan><tspan dy="-4.7"> = 1</tspan></text>
</g>
</svg>
</body>
</html>
